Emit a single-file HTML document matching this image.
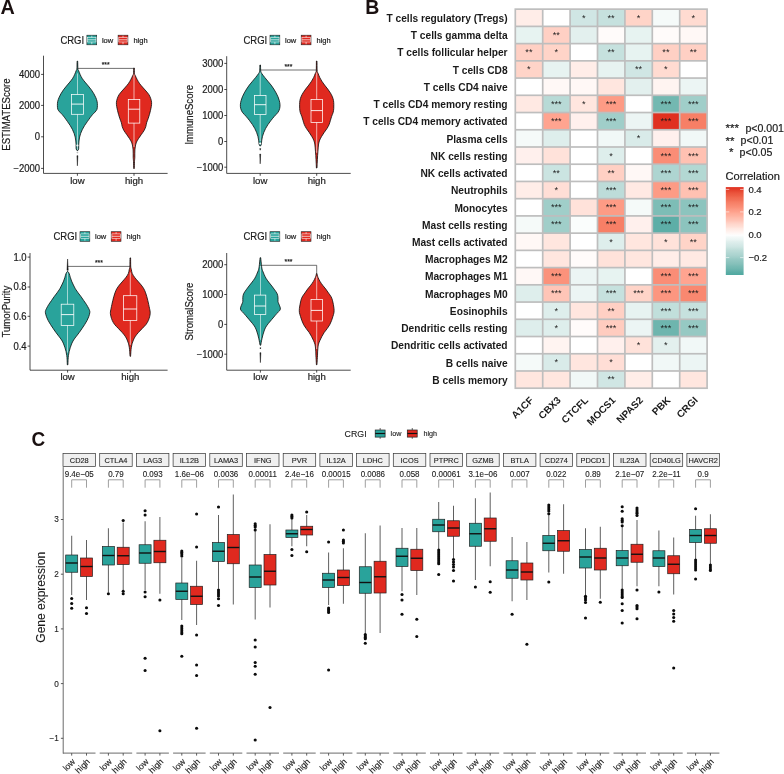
<!DOCTYPE html>
<html><head><meta charset="utf-8"><title>Figure</title>
<style>html,body{margin:0;padding:0;background:#fff;overflow:hidden;}svg{display:block;will-change:transform;}text{font-family:"Liberation Sans",sans-serif;}.k text{stroke:#222;stroke-width:0.2px;}.c text{stroke:#222;stroke-width:0.12px;}</style>
</head><body>
<svg width="784" height="774" viewBox="0 0 784 774">
<rect width="784" height="774" fill="#fff"/>
<g class="k"><path d="M77.7,61.2C77.73,62.5 77.76,67.45 77.9,69C78.04,70.55 78.19,69.6 78.56,70.5C78.93,71.4 79.51,73.1 80.1,74.4C80.69,75.7 81.28,77.02 82.1,78.3C82.92,79.58 83.97,80.82 85,82.1C86.03,83.38 87.23,84.7 88.3,86C89.37,87.3 90.47,88.6 91.4,89.9C92.33,91.2 93.17,92.52 93.9,93.8C94.63,95.08 95.27,96.32 95.8,97.6C96.33,98.88 96.83,100.2 97.1,101.5C97.37,102.8 97.42,104.1 97.4,105.4C97.38,106.7 97.4,108.18 97,109.3C96.6,110.42 95.73,111.23 95,112.1C94.27,112.97 93.43,113.55 92.6,114.5C91.77,115.45 90.88,116.62 90,117.8C89.12,118.98 88.2,120.32 87.3,121.6C86.4,122.88 85.42,124.2 84.6,125.5C83.78,126.8 83.05,128.1 82.4,129.4C81.75,130.7 81.17,132.02 80.7,133.3C80.23,134.58 79.88,135.82 79.6,137.1C79.32,138.38 79.15,139.7 79,141C78.85,142.3 78.76,143.6 78.7,144.9C78.64,146.2 78.81,147.85 78.65,148.8C78.49,149.75 77.9,150.3 77.75,150.6L77.05,150.6C76.9,150.3 76.31,149.75 76.15,148.8C75.99,147.85 76.16,146.2 76.1,144.9C76.04,143.6 75.95,142.3 75.8,141C75.65,139.7 75.48,138.38 75.2,137.1C74.92,135.82 74.57,134.58 74.1,133.3C73.63,132.02 73.05,130.7 72.4,129.4C71.75,128.1 71.02,126.8 70.2,125.5C69.38,124.2 68.4,122.88 67.5,121.6C66.6,120.32 65.68,118.98 64.8,117.8C63.92,116.62 63.03,115.45 62.2,114.5C61.37,113.55 60.53,112.97 59.8,112.1C59.07,111.23 58.2,110.42 57.8,109.3C57.4,108.18 57.42,106.7 57.4,105.4C57.38,104.1 57.43,102.8 57.7,101.5C57.97,100.2 58.47,98.88 59,97.6C59.53,96.32 60.17,95.08 60.9,93.8C61.63,92.52 62.47,91.2 63.4,89.9C64.33,88.6 65.43,87.3 66.5,86C67.57,84.7 68.77,83.38 69.8,82.1C70.83,80.82 71.88,79.58 72.7,78.3C73.52,77.02 74.11,75.7 74.7,74.4C75.29,73.1 75.87,71.4 76.24,70.5C76.61,69.6 76.76,70.55 76.9,69C77.04,67.45 77.07,62.5 77.1,61.2Z" fill="#29A39B" stroke="#0a0a0a" stroke-width="0.8"/><line x1="77.4" y1="73.4" x2="77.4" y2="149.8" stroke="#fff" stroke-width="0.7" opacity="0.9"/><rect x="71.4" y="94.4" width="12" height="19.9" fill="#29A39B" stroke="#fff" stroke-width="0.75"/><line x1="71.4" y1="104.1" x2="83.4" y2="104.1" stroke="#fff" stroke-width="0.9"/><path d="M134.3,68C134.33,68.93 134.34,72.35 134.5,73.6C134.66,74.85 134.81,74.53 135.24,75.5C135.67,76.47 136.41,78.1 137.1,79.4C137.79,80.7 138.5,82.02 139.4,83.3C140.3,84.58 141.4,85.82 142.5,87.1C143.6,88.38 144.9,89.7 146,91C147.1,92.3 148.3,93.6 149.1,94.9C149.9,96.2 150.38,97.52 150.8,98.8C151.22,100.08 151.52,101.32 151.6,102.6C151.68,103.88 151.48,105.2 151.3,106.5C151.12,107.8 150.8,109.1 150.5,110.4C150.2,111.7 149.88,112.95 149.5,114.3C149.12,115.65 148.68,117.08 148.2,118.5C147.72,119.92 147,121.45 146.6,122.8C146.2,124.15 146.22,125.32 145.8,126.6C145.38,127.88 144.83,129.2 144.1,130.5C143.37,131.8 142.3,133.1 141.4,134.4C140.5,135.7 139.52,137.02 138.7,138.3C137.88,139.58 137.05,140.82 136.5,142.1C135.95,143.38 135.67,144.7 135.4,146C135.13,147.3 135,148.6 134.9,149.9C134.8,151.2 134.82,152.52 134.8,153.8C134.78,155.08 134.85,156.32 134.8,157.6C134.75,158.88 134.58,159.68 134.5,161.5C134.42,163.32 134.33,167.33 134.3,168.5L133.7,168.5C133.67,167.33 133.58,163.32 133.5,161.5C133.42,159.68 133.25,158.88 133.2,157.6C133.15,156.32 133.22,155.08 133.2,153.8C133.18,152.52 133.2,151.2 133.1,149.9C133,148.6 132.87,147.3 132.6,146C132.33,144.7 132.05,143.38 131.5,142.1C130.95,140.82 130.12,139.58 129.3,138.3C128.48,137.02 127.5,135.7 126.6,134.4C125.7,133.1 124.63,131.8 123.9,130.5C123.17,129.2 122.62,127.88 122.2,126.6C121.78,125.32 121.8,124.15 121.4,122.8C121,121.45 120.28,119.92 119.8,118.5C119.32,117.08 118.88,115.65 118.5,114.3C118.12,112.95 117.8,111.7 117.5,110.4C117.2,109.1 116.88,107.8 116.7,106.5C116.52,105.2 116.32,103.88 116.4,102.6C116.48,101.32 116.78,100.08 117.2,98.8C117.62,97.52 118.1,96.2 118.9,94.9C119.7,93.6 120.9,92.3 122,91C123.1,89.7 124.4,88.38 125.5,87.1C126.6,85.82 127.7,84.58 128.6,83.3C129.5,82.02 130.21,80.7 130.9,79.4C131.59,78.1 132.33,76.47 132.76,75.5C133.19,74.53 133.34,74.85 133.5,73.6C133.66,72.35 133.67,68.93 133.7,68Z" fill="#E0291F" stroke="#0a0a0a" stroke-width="0.8"/><line x1="134" y1="74.5" x2="134" y2="147" stroke="#fff" stroke-width="0.7" opacity="0.9"/><rect x="128.3" y="99.5" width="11.5" height="23.6" fill="#E0291F" stroke="#fff" stroke-width="0.75"/><line x1="128.3" y1="109.2" x2="139.8" y2="109.2" stroke="#fff" stroke-width="0.9"/><path d="M77.4,68.4H134V69" fill="none" stroke="#333" stroke-width="0.7"/><text x="105.7" y="67.2" font-size="6.8" text-anchor="middle" font-weight="normal" fill="#111">***</text><ellipse cx="77.4" cy="145.5" rx="1.1" ry="0.9" fill="#fff"/><ellipse cx="77.4" cy="152.6" rx="0.9" ry="0.8" fill="#bbb"/><path d="M76.95,155.7L77.85,155.7L77.4,165.8Z" fill="#111" stroke="#111" stroke-width="0.5"/><path d="M43.5,55.7V173.4H167.6" fill="none" stroke="#111" stroke-width="0.75"/><line x1="41.1" y1="74.4" x2="43.5" y2="74.4" stroke="#111" stroke-width="0.75"/><text x="0" y="0" font-size="10.17" text-anchor="end" font-weight="normal" fill="#1a1a1a" transform="translate(40.1 77.8) scale(0.9346 1)">4000</text><line x1="41.1" y1="105.4" x2="43.5" y2="105.4" stroke="#111" stroke-width="0.75"/><text x="0" y="0" font-size="10.17" text-anchor="end" font-weight="normal" fill="#1a1a1a" transform="translate(40.1 108.8) scale(0.9346 1)">2000</text><line x1="41.1" y1="136.8" x2="43.5" y2="136.8" stroke="#111" stroke-width="0.75"/><text x="0" y="0" font-size="10.17" text-anchor="end" font-weight="normal" fill="#1a1a1a" transform="translate(40.1 140.2) scale(0.9346 1)">0</text><line x1="41.1" y1="168.4" x2="43.5" y2="168.4" stroke="#111" stroke-width="0.75"/><text x="0" y="0" font-size="10.17" text-anchor="end" font-weight="normal" fill="#1a1a1a" transform="translate(40.1 171.8) scale(0.9346 1)">−2000</text><line x1="77.4" y1="173.4" x2="77.4" y2="175.8" stroke="#111" stroke-width="0.75"/><text x="77.4" y="183.5" font-size="9.6" text-anchor="middle" font-weight="normal" fill="#1a1a1a">low</text><line x1="134" y1="173.4" x2="134" y2="175.8" stroke="#111" stroke-width="0.75"/><text x="134" y="183.5" font-size="9.6" text-anchor="middle" font-weight="normal" fill="#1a1a1a">high</text><text x="0" y="0" font-size="10.9" text-anchor="middle" font-weight="normal" fill="#1a1a1a" transform="translate(9.9 114.55) rotate(-90) scale(0.88 1)">ESTIMATEScore</text><text x="0" y="0" font-size="10.6" text-anchor="start" font-weight="normal" fill="#1a1a1a" transform="translate(60.4 43.6) scale(0.896 1)">CRGI</text><rect x="86.9" y="35.2" width="9.8" height="9.6" fill="#29A39B" stroke="#222" stroke-width="0.6"/><rect x="87.6" y="37.4" width="8.4" height="4.6" fill="none" stroke="#fff" stroke-width="0.6" opacity="0.9"/><line x1="87.6" y1="39.8" x2="96" y2="39.8" stroke="#fff" stroke-width="0.7"/><line x1="91.8" y1="35.7" x2="91.8" y2="37.4" stroke="#fff" stroke-width="0.6"/><line x1="91.8" y1="42" x2="91.8" y2="44.2" stroke="#fff" stroke-width="0.6"/><text x="101.9" y="42.8" font-size="7.5" text-anchor="start" font-weight="normal" fill="#1a1a1a">low</text><rect x="118.1" y="35.2" width="9.8" height="9.6" fill="#E0291F" stroke="#222" stroke-width="0.6"/><rect x="118.8" y="37.4" width="8.4" height="4.6" fill="none" stroke="#fff" stroke-width="0.6" opacity="0.9"/><line x1="118.8" y1="39.8" x2="127.2" y2="39.8" stroke="#fff" stroke-width="0.7"/><line x1="123" y1="35.7" x2="123" y2="37.4" stroke="#fff" stroke-width="0.6"/><line x1="123" y1="42" x2="123" y2="44.2" stroke="#fff" stroke-width="0.6"/><text x="133.4" y="42.8" font-size="7.5" text-anchor="start" font-weight="normal" fill="#1a1a1a">high</text></g>
<g class="k"><path d="M260.5,65C260.52,65.83 260.57,68.83 260.65,70C260.73,71.17 260.82,71.42 261,72C261.18,72.58 261.13,72.6 261.75,73.5C262.37,74.4 263.67,76.1 264.7,77.4C265.73,78.7 266.88,80.02 267.95,81.3C269.02,82.58 270.12,83.82 271.1,85.1C272.07,86.38 272.97,87.7 273.8,89C274.63,90.3 275.4,91.6 276.1,92.9C276.8,94.2 277.47,95.52 278,96.8C278.53,98.08 278.97,99.32 279.3,100.6C279.63,101.88 279.93,103.2 280,104.5C280.07,105.8 280.03,107.1 279.7,108.4C279.37,109.7 278.92,110.95 278,112.3C277.08,113.65 275.42,115.08 274.2,116.5C272.98,117.92 271.74,119.45 270.7,120.8C269.66,122.15 268.8,123.32 267.95,124.6C267.1,125.88 266.29,127.2 265.6,128.5C264.91,129.8 264.32,131.1 263.8,132.4C263.28,133.7 262.84,135.02 262.5,136.3C262.16,137.58 261.94,138.82 261.75,140.1C261.56,141.38 261.55,143.03 261.36,144C261.17,144.97 260.73,145.58 260.6,145.9L259.8,145.9C259.67,145.58 259.23,144.97 259.04,144C258.85,143.03 258.84,141.38 258.65,140.1C258.46,138.82 258.24,137.58 257.9,136.3C257.56,135.02 257.12,133.7 256.6,132.4C256.08,131.1 255.49,129.8 254.8,128.5C254.11,127.2 253.3,125.88 252.45,124.6C251.6,123.32 250.74,122.15 249.7,120.8C248.66,119.45 247.42,117.92 246.2,116.5C244.98,115.08 243.32,113.65 242.4,112.3C241.48,110.95 241.03,109.7 240.7,108.4C240.37,107.1 240.33,105.8 240.4,104.5C240.47,103.2 240.77,101.88 241.1,100.6C241.43,99.32 241.87,98.08 242.4,96.8C242.93,95.52 243.6,94.2 244.3,92.9C245,91.6 245.77,90.3 246.6,89C247.43,87.7 248.32,86.38 249.3,85.1C250.27,83.82 251.38,82.58 252.45,81.3C253.52,80.02 254.67,78.7 255.7,77.4C256.73,76.1 258.03,74.4 258.65,73.5C259.27,72.6 259.22,72.58 259.4,72C259.58,71.42 259.67,71.17 259.75,70C259.83,68.83 259.88,65.83 259.9,65Z" fill="#29A39B" stroke="#0a0a0a" stroke-width="0.8"/><line x1="260.2" y1="72.5" x2="260.2" y2="141.1" stroke="#fff" stroke-width="0.7" opacity="0.9"/><rect x="254.4" y="95.4" width="11.6" height="19.2" fill="#29A39B" stroke="#fff" stroke-width="0.75"/><line x1="254.4" y1="104.7" x2="266" y2="104.7" stroke="#fff" stroke-width="0.9"/><path d="M317,61.1C317.02,62.58 317.04,68.18 317.1,70C317.16,71.82 317.19,71.42 317.36,72C317.53,72.58 317.74,72.6 318.13,73.5C318.52,74.4 319.07,76.1 319.7,77.4C320.33,78.7 321.08,80.02 321.9,81.3C322.72,82.58 323.63,83.82 324.6,85.1C325.57,86.38 326.73,87.7 327.7,89C328.67,90.3 329.62,91.6 330.4,92.9C331.18,94.2 331.88,95.52 332.4,96.8C332.92,98.08 333.27,99.32 333.5,100.6C333.73,101.88 333.76,103.2 333.8,104.5C333.84,105.8 333.85,107.1 333.75,108.4C333.65,109.7 333.56,110.95 333.2,112.3C332.84,113.65 332.08,115.08 331.6,116.5C331.12,117.92 330.72,119.45 330.3,120.8C329.88,122.15 329.65,123.32 329.1,124.6C328.55,125.88 327.82,127.2 327,128.5C326.18,129.8 325.08,131.1 324.2,132.4C323.32,133.7 322.45,135.02 321.7,136.3C320.95,137.58 320.22,138.82 319.7,140.1C319.18,141.38 318.85,142.7 318.6,144C318.35,145.3 318.32,146.6 318.2,147.9C318.08,149.2 318,150.52 317.9,151.8C317.8,153.08 317.68,154.32 317.6,155.6C317.52,156.88 317.47,158.2 317.4,159.5C317.33,160.8 317.27,161.98 317.2,163.4C317.13,164.82 317.03,167.23 317,168L316.4,168C316.37,167.23 316.27,164.82 316.2,163.4C316.13,161.98 316.07,160.8 316,159.5C315.93,158.2 315.88,156.88 315.8,155.6C315.72,154.32 315.6,153.08 315.5,151.8C315.4,150.52 315.32,149.2 315.2,147.9C315.08,146.6 315.05,145.3 314.8,144C314.55,142.7 314.22,141.38 313.7,140.1C313.18,138.82 312.45,137.58 311.7,136.3C310.95,135.02 310.08,133.7 309.2,132.4C308.32,131.1 307.22,129.8 306.4,128.5C305.58,127.2 304.85,125.88 304.3,124.6C303.75,123.32 303.52,122.15 303.1,120.8C302.68,119.45 302.28,117.92 301.8,116.5C301.32,115.08 300.56,113.65 300.2,112.3C299.84,110.95 299.75,109.7 299.65,108.4C299.55,107.1 299.56,105.8 299.6,104.5C299.64,103.2 299.67,101.88 299.9,100.6C300.13,99.32 300.48,98.08 301,96.8C301.52,95.52 302.22,94.2 303,92.9C303.78,91.6 304.73,90.3 305.7,89C306.67,87.7 307.83,86.38 308.8,85.1C309.77,83.82 310.68,82.58 311.5,81.3C312.32,80.02 313.07,78.7 313.7,77.4C314.33,76.1 314.88,74.4 315.27,73.5C315.66,72.6 315.87,72.58 316.04,72C316.21,71.42 316.24,71.82 316.3,70C316.36,68.18 316.38,62.58 316.4,61.1Z" fill="#E0291F" stroke="#0a0a0a" stroke-width="0.8"/><line x1="316.7" y1="72.5" x2="316.7" y2="152.8" stroke="#fff" stroke-width="0.7" opacity="0.9"/><rect x="311" y="99.5" width="11.6" height="23" fill="#E0291F" stroke="#fff" stroke-width="0.75"/><line x1="311" y1="110.6" x2="322.6" y2="110.6" stroke="#fff" stroke-width="0.9"/><path d="M260.2,70H316.7V70.5" fill="none" stroke="#333" stroke-width="0.7"/><text x="288.45" y="68.8" font-size="6.8" text-anchor="middle" font-weight="normal" fill="#111">***</text><ellipse cx="260.2" cy="143.6" rx="1.1" ry="1" fill="#fff"/><path d="M259.75,148.6L260.65,148.6L260.2,150.2Z" fill="#111" stroke="#111" stroke-width="0.5"/><path d="M259.75,154.1L260.65,154.1L260.2,163.8Z" fill="#111" stroke="#111" stroke-width="0.5"/><path d="M226.7,56.2V173.4H350.7" fill="none" stroke="#111" stroke-width="0.75"/><line x1="224.3" y1="63.4" x2="226.7" y2="63.4" stroke="#111" stroke-width="0.75"/><text x="0" y="0" font-size="10.17" text-anchor="end" font-weight="normal" fill="#1a1a1a" transform="translate(223.3 66.8) scale(0.9346 1)">3000</text><line x1="224.3" y1="89.5" x2="226.7" y2="89.5" stroke="#111" stroke-width="0.75"/><text x="0" y="0" font-size="10.17" text-anchor="end" font-weight="normal" fill="#1a1a1a" transform="translate(223.3 92.9) scale(0.9346 1)">2000</text><line x1="224.3" y1="115.5" x2="226.7" y2="115.5" stroke="#111" stroke-width="0.75"/><text x="0" y="0" font-size="10.17" text-anchor="end" font-weight="normal" fill="#1a1a1a" transform="translate(223.3 118.9) scale(0.9346 1)">1000</text><line x1="224.3" y1="141.5" x2="226.7" y2="141.5" stroke="#111" stroke-width="0.75"/><text x="0" y="0" font-size="10.17" text-anchor="end" font-weight="normal" fill="#1a1a1a" transform="translate(223.3 144.9) scale(0.9346 1)">0</text><line x1="224.3" y1="167.2" x2="226.7" y2="167.2" stroke="#111" stroke-width="0.75"/><text x="0" y="0" font-size="10.17" text-anchor="end" font-weight="normal" fill="#1a1a1a" transform="translate(223.3 170.6) scale(0.9346 1)">−1000</text><line x1="260.2" y1="173.4" x2="260.2" y2="175.8" stroke="#111" stroke-width="0.75"/><text x="260.2" y="183.5" font-size="9.6" text-anchor="middle" font-weight="normal" fill="#1a1a1a">low</text><line x1="316.7" y1="173.4" x2="316.7" y2="175.8" stroke="#111" stroke-width="0.75"/><text x="316.7" y="183.5" font-size="9.6" text-anchor="middle" font-weight="normal" fill="#1a1a1a">high</text><text x="0" y="0" font-size="10.9" text-anchor="middle" font-weight="normal" fill="#1a1a1a" transform="translate(193.2 114.8) rotate(-90) scale(0.88 1)">ImmuneScore</text><text x="0" y="0" font-size="10.6" text-anchor="start" font-weight="normal" fill="#1a1a1a" transform="translate(243.5 43.6) scale(0.896 1)">CRGI</text><rect x="270" y="35.2" width="9.8" height="9.6" fill="#29A39B" stroke="#222" stroke-width="0.6"/><rect x="270.7" y="37.4" width="8.4" height="4.6" fill="none" stroke="#fff" stroke-width="0.6" opacity="0.9"/><line x1="270.7" y1="39.8" x2="279.1" y2="39.8" stroke="#fff" stroke-width="0.7"/><line x1="274.9" y1="35.7" x2="274.9" y2="37.4" stroke="#fff" stroke-width="0.6"/><line x1="274.9" y1="42" x2="274.9" y2="44.2" stroke="#fff" stroke-width="0.6"/><text x="285" y="42.8" font-size="7.5" text-anchor="start" font-weight="normal" fill="#1a1a1a">low</text><rect x="301.2" y="35.2" width="9.8" height="9.6" fill="#E0291F" stroke="#222" stroke-width="0.6"/><rect x="301.9" y="37.4" width="8.4" height="4.6" fill="none" stroke="#fff" stroke-width="0.6" opacity="0.9"/><line x1="301.9" y1="39.8" x2="310.3" y2="39.8" stroke="#fff" stroke-width="0.7"/><line x1="306.1" y1="35.7" x2="306.1" y2="37.4" stroke="#fff" stroke-width="0.6"/><line x1="306.1" y1="42" x2="306.1" y2="44.2" stroke="#fff" stroke-width="0.6"/><text x="316.5" y="42.8" font-size="7.5" text-anchor="start" font-weight="normal" fill="#1a1a1a">high</text></g>
<g class="k"><path d="M67.95,271.6C68.15,271.9 68.76,272.45 69.15,273.4C69.54,274.35 69.89,276.02 70.3,277.3C70.71,278.58 71.08,279.82 71.6,281.1C72.12,282.38 72.77,283.7 73.4,285C74.03,286.3 74.62,287.6 75.4,288.9C76.18,290.2 77.17,291.52 78.1,292.8C79.03,294.08 80.07,295.32 81,296.6C81.93,297.88 82.8,299.2 83.7,300.5C84.6,301.8 85.58,303.1 86.4,304.4C87.22,305.7 88.07,307.27 88.6,308.3C89.13,309.33 89.4,309.87 89.6,310.6C89.8,311.33 89.95,311.67 89.8,312.7C89.65,313.73 89.17,315.48 88.7,316.8C88.23,318.12 87.67,319.32 87,320.6C86.33,321.88 85.52,323.2 84.7,324.5C83.88,325.8 82.98,327.1 82.1,328.4C81.22,329.7 80.33,331.02 79.4,332.3C78.47,333.58 77.47,334.82 76.5,336.1C75.53,337.38 74.42,338.7 73.6,340C72.78,341.3 72.17,342.6 71.6,343.9C71.03,345.2 70.61,346.52 70.2,347.8C69.79,349.08 69.44,350.32 69.15,351.6C68.86,352.88 68.62,354.2 68.45,355.5C68.27,356.8 68.19,357.85 68.1,359.4C68.01,360.95 67.93,363.9 67.9,364.8L67.3,364.8C67.27,363.9 67.19,360.95 67.1,359.4C67.01,357.85 66.92,356.8 66.75,355.5C66.58,354.2 66.34,352.88 66.05,351.6C65.76,350.32 65.41,349.08 65,347.8C64.59,346.52 64.17,345.2 63.6,343.9C63.03,342.6 62.42,341.3 61.6,340C60.78,338.7 59.67,337.38 58.7,336.1C57.73,334.82 56.73,333.58 55.8,332.3C54.87,331.02 53.98,329.7 53.1,328.4C52.22,327.1 51.32,325.8 50.5,324.5C49.68,323.2 48.87,321.88 48.2,320.6C47.53,319.32 46.97,318.12 46.5,316.8C46.03,315.48 45.55,313.73 45.4,312.7C45.25,311.67 45.4,311.33 45.6,310.6C45.8,309.87 46.07,309.33 46.6,308.3C47.13,307.27 47.98,305.7 48.8,304.4C49.62,303.1 50.6,301.8 51.5,300.5C52.4,299.2 53.27,297.88 54.2,296.6C55.13,295.32 56.17,294.08 57.1,292.8C58.03,291.52 59.02,290.2 59.8,288.9C60.58,287.6 61.17,286.3 61.8,285C62.43,283.7 63.08,282.38 63.6,281.1C64.12,279.82 64.49,278.58 64.9,277.3C65.31,276.02 65.66,274.35 66.05,273.4C66.44,272.45 67.05,271.9 67.25,271.6Z" fill="#29A39B" stroke="#0a0a0a" stroke-width="0.8"/><line x1="67.6" y1="272.4" x2="67.6" y2="352.6" stroke="#fff" stroke-width="0.7" opacity="0.9"/><rect x="61.2" y="304.2" width="12.6" height="21.2" fill="#29A39B" stroke="#fff" stroke-width="0.75"/><line x1="61.2" y1="314.6" x2="73.8" y2="314.6" stroke="#fff" stroke-width="0.9"/><path d="M130.6,257.9C130.62,259.25 130.64,264.32 130.7,266C130.76,267.68 130.85,267.42 130.96,268C131.07,268.58 131.14,268.6 131.35,269.5C131.56,270.4 131.66,272.1 132.2,273.4C132.74,274.7 133.67,276.02 134.6,277.3C135.53,278.58 136.7,279.82 137.8,281.1C138.9,282.38 140.18,283.7 141.2,285C142.22,286.3 143.17,287.6 143.9,288.9C144.63,290.2 145.12,291.52 145.6,292.8C146.08,294.08 146.43,295.32 146.8,296.6C147.17,297.88 147.48,299.2 147.8,300.5C148.12,301.8 148.42,303.1 148.7,304.4C148.98,305.7 149.28,307.2 149.5,308.3C149.72,309.4 149.93,310.13 150.05,311C150.17,311.87 150.28,312.53 150.2,313.5C150.13,314.47 149.92,315.62 149.6,316.8C149.28,317.98 148.9,319.32 148.3,320.6C147.7,321.88 147,323.2 146,324.5C145,325.8 143.53,327.1 142.3,328.4C141.07,329.7 139.73,331.02 138.6,332.3C137.47,333.58 136.37,334.82 135.5,336.1C134.63,337.38 133.98,338.7 133.4,340C132.82,341.3 132.36,342.6 132,343.9C131.64,345.2 131.43,346.52 131.25,347.8C131.07,349.08 131.01,350.18 130.9,351.6C130.79,353.02 130.65,355.52 130.6,356.3L130,356.3C129.95,355.52 129.81,353.02 129.7,351.6C129.59,350.18 129.53,349.08 129.35,347.8C129.17,346.52 128.96,345.2 128.6,343.9C128.24,342.6 127.78,341.3 127.2,340C126.62,338.7 125.97,337.38 125.1,336.1C124.23,334.82 123.13,333.58 122,332.3C120.87,331.02 119.53,329.7 118.3,328.4C117.07,327.1 115.6,325.8 114.6,324.5C113.6,323.2 112.9,321.88 112.3,320.6C111.7,319.32 111.32,317.98 111,316.8C110.68,315.62 110.48,314.47 110.4,313.5C110.33,312.53 110.43,311.87 110.55,311C110.67,310.13 110.88,309.4 111.1,308.3C111.33,307.2 111.62,305.7 111.9,304.4C112.18,303.1 112.48,301.8 112.8,300.5C113.12,299.2 113.43,297.88 113.8,296.6C114.17,295.32 114.52,294.08 115,292.8C115.48,291.52 115.97,290.2 116.7,288.9C117.43,287.6 118.38,286.3 119.4,285C120.42,283.7 121.7,282.38 122.8,281.1C123.9,279.82 125.07,278.58 126,277.3C126.93,276.02 127.86,274.7 128.4,273.4C128.94,272.1 129.04,270.4 129.25,269.5C129.46,268.6 129.53,268.58 129.64,268C129.75,267.42 129.84,267.68 129.9,266C129.96,264.32 129.98,259.25 130,257.9Z" fill="#E0291F" stroke="#0a0a0a" stroke-width="0.8"/><line x1="130.3" y1="272.4" x2="130.3" y2="344.9" stroke="#fff" stroke-width="0.7" opacity="0.9"/><rect x="123.4" y="295.7" width="13.4" height="24.8" fill="#E0291F" stroke="#fff" stroke-width="0.75"/><line x1="123.4" y1="309" x2="136.8" y2="309" stroke="#fff" stroke-width="0.9"/><path d="M67.6,266.4H130.3V266.9" fill="none" stroke="#333" stroke-width="0.7"/><text x="98.95" y="265.2" font-size="6.8" text-anchor="middle" font-weight="normal" fill="#111">***</text><path d="M67.6,259L68.2,270.3L67,270.3Z" fill="#111" stroke="#111" stroke-width="0.5"/><path d="M30,253V370.2H167.6" fill="none" stroke="#111" stroke-width="0.75"/><line x1="27.6" y1="257.1" x2="30" y2="257.1" stroke="#111" stroke-width="0.75"/><text x="0" y="0" font-size="10.17" text-anchor="end" font-weight="normal" fill="#1a1a1a" transform="translate(26.6 260.5) scale(0.9346 1)">1.0</text><line x1="27.6" y1="287" x2="30" y2="287" stroke="#111" stroke-width="0.75"/><text x="0" y="0" font-size="10.17" text-anchor="end" font-weight="normal" fill="#1a1a1a" transform="translate(26.6 290.4) scale(0.9346 1)">0.8</text><line x1="27.6" y1="316.3" x2="30" y2="316.3" stroke="#111" stroke-width="0.75"/><text x="0" y="0" font-size="10.17" text-anchor="end" font-weight="normal" fill="#1a1a1a" transform="translate(26.6 319.7) scale(0.9346 1)">0.6</text><line x1="27.6" y1="346.1" x2="30" y2="346.1" stroke="#111" stroke-width="0.75"/><text x="0" y="0" font-size="10.17" text-anchor="end" font-weight="normal" fill="#1a1a1a" transform="translate(26.6 349.5) scale(0.9346 1)">0.4</text><line x1="67.6" y1="370.2" x2="67.6" y2="372.6" stroke="#111" stroke-width="0.75"/><text x="67.6" y="380.3" font-size="9.6" text-anchor="middle" font-weight="normal" fill="#1a1a1a">low</text><line x1="130.3" y1="370.2" x2="130.3" y2="372.6" stroke="#111" stroke-width="0.75"/><text x="130.3" y="380.3" font-size="9.6" text-anchor="middle" font-weight="normal" fill="#1a1a1a">high</text><text x="0" y="0" font-size="10.9" text-anchor="middle" font-weight="normal" fill="#1a1a1a" transform="translate(9.6 311.6) rotate(-90) scale(0.88 1)">TumorPurity</text><text x="0" y="0" font-size="10.6" text-anchor="start" font-weight="normal" fill="#1a1a1a" transform="translate(53.5 240.1) scale(0.896 1)">CRGI</text><rect x="80" y="231.7" width="9.8" height="9.6" fill="#29A39B" stroke="#222" stroke-width="0.6"/><rect x="80.7" y="233.9" width="8.4" height="4.6" fill="none" stroke="#fff" stroke-width="0.6" opacity="0.9"/><line x1="80.7" y1="236.3" x2="89.1" y2="236.3" stroke="#fff" stroke-width="0.7"/><line x1="84.9" y1="232.2" x2="84.9" y2="233.9" stroke="#fff" stroke-width="0.6"/><line x1="84.9" y1="238.5" x2="84.9" y2="240.7" stroke="#fff" stroke-width="0.6"/><text x="95" y="239.3" font-size="7.5" text-anchor="start" font-weight="normal" fill="#1a1a1a">low</text><rect x="111.2" y="231.7" width="9.8" height="9.6" fill="#E0291F" stroke="#222" stroke-width="0.6"/><rect x="111.9" y="233.9" width="8.4" height="4.6" fill="none" stroke="#fff" stroke-width="0.6" opacity="0.9"/><line x1="111.9" y1="236.3" x2="120.3" y2="236.3" stroke="#fff" stroke-width="0.7"/><line x1="116.1" y1="232.2" x2="116.1" y2="233.9" stroke="#fff" stroke-width="0.6"/><line x1="116.1" y1="238.5" x2="116.1" y2="240.7" stroke="#fff" stroke-width="0.6"/><text x="126.5" y="239.3" font-size="7.5" text-anchor="start" font-weight="normal" fill="#1a1a1a">high</text></g>
<g class="k"><path d="M260.7,257.7C260.86,259.18 261.34,264.47 261.64,266.6C261.94,268.73 262.09,269.2 262.5,270.5C262.91,271.8 263.52,273.1 264.1,274.4C264.68,275.7 265.23,277.02 266,278.3C266.77,279.58 267.73,280.82 268.7,282.1C269.67,283.38 270.8,284.7 271.8,286C272.8,287.3 273.8,288.6 274.7,289.9C275.6,291.2 276.65,292.52 277.2,293.8C277.75,295.08 277.87,296.32 278,297.6C278.13,298.88 277.87,300.45 278,301.5C278.13,302.55 278.42,302.85 278.8,303.9C279.18,304.95 280.1,306.77 280.3,307.8C280.5,308.83 280.28,309.47 280,310.1C279.72,310.73 279.42,310.7 278.6,311.6C277.78,312.5 276.23,314.2 275.1,315.5C273.97,316.8 272.9,318.1 271.8,319.4C270.7,320.7 269.5,322.02 268.5,323.3C267.5,324.58 266.53,325.82 265.8,327.1C265.07,328.38 264.58,329.7 264.1,331C263.62,332.3 263.26,333.6 262.9,334.9C262.54,336.2 262.23,337.52 261.95,338.8C261.67,340.08 261.4,341.53 261.2,342.6C261,343.67 260.82,344.77 260.75,345.2L260.05,345.2C259.97,344.77 259.8,343.67 259.6,342.6C259.4,341.53 259.13,340.08 258.85,338.8C258.57,337.52 258.26,336.2 257.9,334.9C257.54,333.6 257.18,332.3 256.7,331C256.22,329.7 255.73,328.38 255,327.1C254.27,325.82 253.3,324.58 252.3,323.3C251.3,322.02 250.1,320.7 249,319.4C247.9,318.1 246.83,316.8 245.7,315.5C244.57,314.2 243.02,312.5 242.2,311.6C241.38,310.7 241.08,310.73 240.8,310.1C240.52,309.47 240.3,308.83 240.5,307.8C240.7,306.77 241.62,304.95 242,303.9C242.38,302.85 242.67,302.55 242.8,301.5C242.93,300.45 242.67,298.88 242.8,297.6C242.93,296.32 243.05,295.08 243.6,293.8C244.15,292.52 245.2,291.2 246.1,289.9C247,288.6 248,287.3 249,286C250,284.7 251.13,283.38 252.1,282.1C253.07,280.82 254.03,279.58 254.8,278.3C255.57,277.02 256.12,275.7 256.7,274.4C257.28,273.1 257.89,271.8 258.3,270.5C258.71,269.2 258.86,268.73 259.16,266.6C259.46,264.47 259.94,259.18 260.1,257.7Z" fill="#29A39B" stroke="#0a0a0a" stroke-width="0.8"/><line x1="260.4" y1="265.6" x2="260.4" y2="339.8" stroke="#fff" stroke-width="0.7" opacity="0.9"/><rect x="254.4" y="295.1" width="11.4" height="19.4" fill="#29A39B" stroke="#fff" stroke-width="0.75"/><line x1="254.4" y1="306" x2="265.8" y2="306" stroke="#fff" stroke-width="0.9"/><path d="M317,273.6C317.05,273.87 317.12,274.55 317.3,275.2C317.48,275.85 317.61,276.47 318.06,277.5C318.51,278.53 319.23,280.1 320,281.4C320.77,282.7 321.73,284.02 322.7,285.3C323.67,286.58 324.83,287.82 325.8,289.1C326.77,290.38 327.6,291.7 328.5,293C329.4,294.3 330.52,295.6 331.2,296.9C331.88,298.2 332.23,299.52 332.6,300.8C332.97,302.08 333.17,303.32 333.4,304.6C333.63,305.88 333.9,307.2 334,308.5C334.1,309.8 334.18,311.07 334,312.4C333.82,313.73 333.3,315.15 332.9,316.5C332.5,317.85 332.13,319.12 331.6,320.5C331.07,321.88 330.43,323.45 329.7,324.8C328.97,326.15 328.12,327.32 327.2,328.6C326.28,329.88 325.08,331.2 324.2,332.5C323.32,333.8 322.6,335.1 321.9,336.4C321.2,337.7 320.57,339.02 320,340.3C319.43,341.58 318.85,342.82 318.5,344.1C318.15,345.38 318.05,346.7 317.9,348C317.75,349.3 317.67,350.6 317.6,351.9C317.53,353.2 317.56,354.52 317.5,355.8C317.44,357.08 317.33,358.12 317.25,359.6C317.17,361.08 317.04,363.85 317,364.7L316.4,364.7C316.36,363.85 316.23,361.08 316.15,359.6C316.07,358.12 315.96,357.08 315.9,355.8C315.84,354.52 315.87,353.2 315.8,351.9C315.73,350.6 315.65,349.3 315.5,348C315.35,346.7 315.25,345.38 314.9,344.1C314.55,342.82 313.97,341.58 313.4,340.3C312.83,339.02 312.2,337.7 311.5,336.4C310.8,335.1 310.08,333.8 309.2,332.5C308.32,331.2 307.12,329.88 306.2,328.6C305.28,327.32 304.43,326.15 303.7,324.8C302.97,323.45 302.33,321.88 301.8,320.5C301.27,319.12 300.9,317.85 300.5,316.5C300.1,315.15 299.58,313.73 299.4,312.4C299.22,311.07 299.3,309.8 299.4,308.5C299.5,307.2 299.77,305.88 300,304.6C300.23,303.32 300.43,302.08 300.8,300.8C301.17,299.52 301.52,298.2 302.2,296.9C302.88,295.6 304,294.3 304.9,293C305.8,291.7 306.63,290.38 307.6,289.1C308.57,287.82 309.73,286.58 310.7,285.3C311.67,284.02 312.63,282.7 313.4,281.4C314.17,280.1 314.89,278.53 315.34,277.5C315.79,276.47 315.92,275.85 316.1,275.2C316.28,274.55 316.35,273.87 316.4,273.6Z" fill="#E0291F" stroke="#0a0a0a" stroke-width="0.8"/><line x1="316.7" y1="276.5" x2="316.7" y2="349" stroke="#fff" stroke-width="0.7" opacity="0.9"/><rect x="311" y="299.4" width="11.6" height="21.6" fill="#E0291F" stroke="#fff" stroke-width="0.75"/><line x1="311" y1="310.4" x2="322.6" y2="310.4" stroke="#fff" stroke-width="0.9"/><path d="M260.4,265.3H316.7V274.6" fill="none" stroke="#333" stroke-width="0.7"/><text x="288.55" y="264.1" font-size="6.8" text-anchor="middle" font-weight="normal" fill="#111">***</text><path d="M259.95,347.8L260.85,347.8L260.4,349Z" fill="#111" stroke="#111" stroke-width="0.5"/><path d="M259.95,352.7L260.85,352.7L260.4,362.6Z" fill="#111" stroke="#111" stroke-width="0.5"/><path d="M226.7,253V370.2H350.7" fill="none" stroke="#111" stroke-width="0.75"/><line x1="224.3" y1="264.7" x2="226.7" y2="264.7" stroke="#111" stroke-width="0.75"/><text x="0" y="0" font-size="10.17" text-anchor="end" font-weight="normal" fill="#1a1a1a" transform="translate(223.3 268.1) scale(0.9346 1)">2000</text><line x1="224.3" y1="294.5" x2="226.7" y2="294.5" stroke="#111" stroke-width="0.75"/><text x="0" y="0" font-size="10.17" text-anchor="end" font-weight="normal" fill="#1a1a1a" transform="translate(223.3 297.9) scale(0.9346 1)">1000</text><line x1="224.3" y1="324.4" x2="226.7" y2="324.4" stroke="#111" stroke-width="0.75"/><text x="0" y="0" font-size="10.17" text-anchor="end" font-weight="normal" fill="#1a1a1a" transform="translate(223.3 327.8) scale(0.9346 1)">0</text><line x1="224.3" y1="354.2" x2="226.7" y2="354.2" stroke="#111" stroke-width="0.75"/><text x="0" y="0" font-size="10.17" text-anchor="end" font-weight="normal" fill="#1a1a1a" transform="translate(223.3 357.6) scale(0.9346 1)">−1000</text><line x1="260.4" y1="370.2" x2="260.4" y2="372.6" stroke="#111" stroke-width="0.75"/><text x="260.4" y="380.3" font-size="9.6" text-anchor="middle" font-weight="normal" fill="#1a1a1a">low</text><line x1="316.7" y1="370.2" x2="316.7" y2="372.6" stroke="#111" stroke-width="0.75"/><text x="316.7" y="380.3" font-size="9.6" text-anchor="middle" font-weight="normal" fill="#1a1a1a">high</text><text x="0" y="0" font-size="10.9" text-anchor="middle" font-weight="normal" fill="#1a1a1a" transform="translate(193.2 311.6) rotate(-90) scale(0.88 1)">StromalScore</text><text x="0" y="0" font-size="10.6" text-anchor="start" font-weight="normal" fill="#1a1a1a" transform="translate(243.5 240.1) scale(0.896 1)">CRGI</text><rect x="270" y="231.7" width="9.8" height="9.6" fill="#29A39B" stroke="#222" stroke-width="0.6"/><rect x="270.7" y="233.9" width="8.4" height="4.6" fill="none" stroke="#fff" stroke-width="0.6" opacity="0.9"/><line x1="270.7" y1="236.3" x2="279.1" y2="236.3" stroke="#fff" stroke-width="0.7"/><line x1="274.9" y1="232.2" x2="274.9" y2="233.9" stroke="#fff" stroke-width="0.6"/><line x1="274.9" y1="238.5" x2="274.9" y2="240.7" stroke="#fff" stroke-width="0.6"/><text x="285" y="239.3" font-size="7.5" text-anchor="start" font-weight="normal" fill="#1a1a1a">low</text><rect x="301.2" y="231.7" width="9.8" height="9.6" fill="#E0291F" stroke="#222" stroke-width="0.6"/><rect x="301.9" y="233.9" width="8.4" height="4.6" fill="none" stroke="#fff" stroke-width="0.6" opacity="0.9"/><line x1="301.9" y1="236.3" x2="310.3" y2="236.3" stroke="#fff" stroke-width="0.7"/><line x1="306.1" y1="232.2" x2="306.1" y2="233.9" stroke="#fff" stroke-width="0.6"/><line x1="306.1" y1="238.5" x2="306.1" y2="240.7" stroke="#fff" stroke-width="0.6"/><text x="316.5" y="239.3" font-size="7.5" text-anchor="start" font-weight="normal" fill="#1a1a1a">high</text></g>
<text x="0.5" y="13.9" font-size="19.8" text-anchor="start" font-weight="bold" fill="#1a1010">A</text>
<text x="365.2" y="14" font-size="19.5" text-anchor="start" font-weight="bold" fill="#1a1010">B</text>
<text x="0" y="0" font-size="20.6" text-anchor="start" font-weight="bold" fill="#1a1010" transform="translate(31.5 445.5) scale(0.92 1)">C</text>
<rect x="514.45" y="8.3" width="193.5" height="380.76" fill="#BEBEBE"/><rect x="516.15" y="10" width="25.7" height="15.53" fill="#FFEDE8"/><rect x="543.55" y="10" width="25.7" height="15.53" fill="#FFFFFF"/><rect x="570.95" y="10" width="25.7" height="15.53" fill="#D0E6E4"/><text x="583.7" y="20.66" font-size="9.2" text-anchor="middle" font-weight="normal" fill="#1a1a1a">*</text><rect x="598.35" y="10" width="25.7" height="15.53" fill="#C6E1DE"/><text x="611.1" y="20.66" font-size="9.2" text-anchor="middle" font-weight="normal" fill="#1a1a1a">**</text><rect x="625.75" y="10" width="25.7" height="15.53" fill="#FFD4C8"/><text x="638.5" y="20.66" font-size="9.2" text-anchor="middle" font-weight="normal" fill="#1a1a1a">*</text><rect x="653.15" y="10" width="25.7" height="15.53" fill="#F5FAF9"/><rect x="680.55" y="10" width="25.7" height="15.53" fill="#FFDBD1"/><text x="693.3" y="20.66" font-size="9.2" text-anchor="middle" font-weight="normal" fill="#1a1a1a">*</text><text x="507.6" y="21.96" font-size="10.2" text-anchor="end" font-weight="bold" fill="#1a1a1a">T cells regulatory (Tregs)</text><rect x="516.15" y="27.23" width="25.7" height="15.53" fill="#E7F3F1"/><rect x="543.55" y="27.23" width="25.7" height="15.53" fill="#FFD0C4"/><text x="556.3" y="37.9" font-size="9.2" text-anchor="middle" font-weight="normal" fill="#1a1a1a">**</text><rect x="570.95" y="27.23" width="25.7" height="15.53" fill="#E3F0EE"/><rect x="598.35" y="27.23" width="25.7" height="15.53" fill="#FFFBFA"/><rect x="625.75" y="27.23" width="25.7" height="15.53" fill="#E7F3F1"/><rect x="653.15" y="27.23" width="25.7" height="15.53" fill="#FFFBFA"/><rect x="680.55" y="27.23" width="25.7" height="15.53" fill="#FFF8F6"/><text x="507.6" y="39.2" font-size="10.2" text-anchor="end" font-weight="bold" fill="#1a1a1a">T cells gamma delta</text><rect x="516.15" y="44.46" width="25.7" height="15.53" fill="#FFD0C4"/><text x="528.9" y="55.12" font-size="9.2" text-anchor="middle" font-weight="normal" fill="#1a1a1a">**</text><rect x="543.55" y="44.46" width="25.7" height="15.53" fill="#FFD4C8"/><text x="556.3" y="55.12" font-size="9.2" text-anchor="middle" font-weight="normal" fill="#1a1a1a">*</text><rect x="570.95" y="44.46" width="25.7" height="15.53" fill="#FFFFFF"/><rect x="598.35" y="44.46" width="25.7" height="15.53" fill="#C6E1DE"/><text x="611.1" y="55.12" font-size="9.2" text-anchor="middle" font-weight="normal" fill="#1a1a1a">**</text><rect x="625.75" y="44.46" width="25.7" height="15.53" fill="#E7F3F1"/><rect x="653.15" y="44.46" width="25.7" height="15.53" fill="#FFD0C4"/><text x="665.9" y="55.12" font-size="9.2" text-anchor="middle" font-weight="normal" fill="#1a1a1a">**</text><rect x="680.55" y="44.46" width="25.7" height="15.53" fill="#FFD0C4"/><text x="693.3" y="55.12" font-size="9.2" text-anchor="middle" font-weight="normal" fill="#1a1a1a">**</text><text x="507.6" y="56.43" font-size="10.2" text-anchor="end" font-weight="bold" fill="#1a1a1a">T cells follicular helper</text><rect x="516.15" y="61.69" width="25.7" height="15.53" fill="#FFD4C8"/><text x="528.9" y="72.36" font-size="9.2" text-anchor="middle" font-weight="normal" fill="#1a1a1a">*</text><rect x="543.55" y="61.69" width="25.7" height="15.53" fill="#E7F3F1"/><rect x="570.95" y="61.69" width="25.7" height="15.53" fill="#FFEDE8"/><rect x="598.35" y="61.69" width="25.7" height="15.53" fill="#E7F3F1"/><rect x="625.75" y="61.69" width="25.7" height="15.53" fill="#D0E6E4"/><text x="638.5" y="72.36" font-size="9.2" text-anchor="middle" font-weight="normal" fill="#1a1a1a">**</text><rect x="653.15" y="61.69" width="25.7" height="15.53" fill="#FFDBD1"/><text x="665.9" y="72.36" font-size="9.2" text-anchor="middle" font-weight="normal" fill="#1a1a1a">*</text><rect x="680.55" y="61.69" width="25.7" height="15.53" fill="#FFFFFF"/><text x="507.6" y="73.66" font-size="10.2" text-anchor="end" font-weight="bold" fill="#1a1a1a">T cells CD8</text><rect x="516.15" y="78.92" width="25.7" height="15.53" fill="#FFFFFF"/><rect x="543.55" y="78.92" width="25.7" height="15.53" fill="#FFF8F6"/><rect x="570.95" y="78.92" width="25.7" height="15.53" fill="#FFF8F6"/><rect x="598.35" y="78.92" width="25.7" height="15.53" fill="#FFE6DF"/><rect x="625.75" y="78.92" width="25.7" height="15.53" fill="#E3F0EE"/><rect x="653.15" y="78.92" width="25.7" height="15.53" fill="#FFF4F1"/><rect x="680.55" y="78.92" width="25.7" height="15.53" fill="#ECF5F4"/><text x="507.6" y="90.89" font-size="10.2" text-anchor="end" font-weight="bold" fill="#1a1a1a">T cells CD4 naive</text><rect x="516.15" y="96.15" width="25.7" height="15.53" fill="#FFE9E3"/><rect x="543.55" y="96.15" width="25.7" height="15.53" fill="#B8DAD6"/><text x="556.3" y="106.82" font-size="9.2" text-anchor="middle" font-weight="normal" fill="#1a1a1a">***</text><rect x="570.95" y="96.15" width="25.7" height="15.53" fill="#FFE6DF"/><text x="583.7" y="106.82" font-size="9.2" text-anchor="middle" font-weight="normal" fill="#1a1a1a">*</text><rect x="598.35" y="96.15" width="25.7" height="15.53" fill="#FD9B85"/><text x="611.1" y="106.82" font-size="9.2" text-anchor="middle" font-weight="normal" fill="#1a1a1a">***</text><rect x="625.75" y="96.15" width="25.7" height="15.53" fill="#FFFFFF"/><rect x="653.15" y="96.15" width="25.7" height="15.53" fill="#73B8B1"/><text x="665.9" y="106.82" font-size="9.2" text-anchor="middle" font-weight="normal" fill="#1a1a1a">***</text><rect x="680.55" y="96.15" width="25.7" height="15.53" fill="#A0CEC9"/><text x="693.3" y="106.82" font-size="9.2" text-anchor="middle" font-weight="normal" fill="#1a1a1a">***</text><text x="507.6" y="108.12" font-size="10.2" text-anchor="end" font-weight="bold" fill="#1a1a1a">T cells CD4 memory resting</text><rect x="516.15" y="113.38" width="25.7" height="15.53" fill="#FFFFFF"/><rect x="543.55" y="113.38" width="25.7" height="15.53" fill="#FFA490"/><text x="556.3" y="124.05" font-size="9.2" text-anchor="middle" font-weight="normal" fill="#1a1a1a">***</text><rect x="570.95" y="113.38" width="25.7" height="15.53" fill="#FFF0ED"/><rect x="598.35" y="113.38" width="25.7" height="15.53" fill="#A0CEC9"/><text x="611.1" y="124.05" font-size="9.2" text-anchor="middle" font-weight="normal" fill="#1a1a1a">***</text><rect x="625.75" y="113.38" width="25.7" height="15.53" fill="#ECF5F4"/><rect x="653.15" y="113.38" width="25.7" height="15.53" fill="#E03020"/><text x="665.9" y="124.05" font-size="9.2" text-anchor="middle" font-weight="normal" fill="#1a1a1a">***</text><rect x="680.55" y="113.38" width="25.7" height="15.53" fill="#F77F66"/><text x="693.3" y="124.05" font-size="9.2" text-anchor="middle" font-weight="normal" fill="#1a1a1a">***</text><text x="507.6" y="125.34" font-size="10.2" text-anchor="end" font-weight="bold" fill="#1a1a1a">T cells CD4 memory activated</text><rect x="516.15" y="130.61" width="25.7" height="15.53" fill="#F5FAF9"/><rect x="543.55" y="130.61" width="25.7" height="15.53" fill="#DEEEEC"/><rect x="570.95" y="130.61" width="25.7" height="15.53" fill="#FFFFFF"/><rect x="598.35" y="130.61" width="25.7" height="15.53" fill="#F1F8F7"/><rect x="625.75" y="130.61" width="25.7" height="15.53" fill="#D9EBE9"/><text x="638.5" y="141.28" font-size="9.2" text-anchor="middle" font-weight="normal" fill="#1a1a1a">*</text><rect x="653.15" y="130.61" width="25.7" height="15.53" fill="#FFF0ED"/><rect x="680.55" y="130.61" width="25.7" height="15.53" fill="#F1F8F7"/><text x="507.6" y="142.57" font-size="10.2" text-anchor="end" font-weight="bold" fill="#1a1a1a">Plasma cells</text><rect x="516.15" y="147.84" width="25.7" height="15.53" fill="#FFF0ED"/><rect x="543.55" y="147.84" width="25.7" height="15.53" fill="#FFE2DA"/><rect x="570.95" y="147.84" width="25.7" height="15.53" fill="#FFFFFF"/><rect x="598.35" y="147.84" width="25.7" height="15.53" fill="#DEEEEC"/><text x="611.1" y="158.51" font-size="9.2" text-anchor="middle" font-weight="normal" fill="#1a1a1a">*</text><rect x="625.75" y="147.84" width="25.7" height="15.53" fill="#FFFFFF"/><rect x="653.15" y="147.84" width="25.7" height="15.53" fill="#FA8D76"/><text x="665.9" y="158.51" font-size="9.2" text-anchor="middle" font-weight="normal" fill="#1a1a1a">***</text><rect x="680.55" y="147.84" width="25.7" height="15.53" fill="#FFC1B2"/><text x="693.3" y="158.51" font-size="9.2" text-anchor="middle" font-weight="normal" fill="#1a1a1a">***</text><text x="507.6" y="159.81" font-size="10.2" text-anchor="end" font-weight="bold" fill="#1a1a1a">NK cells resting</text><rect x="516.15" y="165.07" width="25.7" height="15.53" fill="#FFFFFF"/><rect x="543.55" y="165.07" width="25.7" height="15.53" fill="#CBE4E1"/><text x="556.3" y="175.74" font-size="9.2" text-anchor="middle" font-weight="normal" fill="#1a1a1a">**</text><rect x="570.95" y="165.07" width="25.7" height="15.53" fill="#FFFFFF"/><rect x="598.35" y="165.07" width="25.7" height="15.53" fill="#FFD0C4"/><text x="611.1" y="175.74" font-size="9.2" text-anchor="middle" font-weight="normal" fill="#1a1a1a">**</text><rect x="625.75" y="165.07" width="25.7" height="15.53" fill="#FFF8F6"/><rect x="653.15" y="165.07" width="25.7" height="15.53" fill="#AED5D1"/><text x="665.9" y="175.74" font-size="9.2" text-anchor="middle" font-weight="normal" fill="#1a1a1a">***</text><rect x="680.55" y="165.07" width="25.7" height="15.53" fill="#B3D8D3"/><text x="693.3" y="175.74" font-size="9.2" text-anchor="middle" font-weight="normal" fill="#1a1a1a">***</text><text x="507.6" y="177.03" font-size="10.2" text-anchor="end" font-weight="bold" fill="#1a1a1a">NK cells activated</text><rect x="516.15" y="182.3" width="25.7" height="15.53" fill="#FFEDE8"/><rect x="543.55" y="182.3" width="25.7" height="15.53" fill="#FFDED6"/><text x="556.3" y="192.97" font-size="9.2" text-anchor="middle" font-weight="normal" fill="#1a1a1a">*</text><rect x="570.95" y="182.3" width="25.7" height="15.53" fill="#FFFFFF"/><rect x="598.35" y="182.3" width="25.7" height="15.53" fill="#BDDCD9"/><text x="611.1" y="192.97" font-size="9.2" text-anchor="middle" font-weight="normal" fill="#1a1a1a">***</text><rect x="625.75" y="182.3" width="25.7" height="15.53" fill="#FFE9E3"/><rect x="653.15" y="182.3" width="25.7" height="15.53" fill="#FD9B85"/><text x="665.9" y="192.97" font-size="9.2" text-anchor="middle" font-weight="normal" fill="#1a1a1a">***</text><rect x="680.55" y="182.3" width="25.7" height="15.53" fill="#FFC1B2"/><text x="693.3" y="192.97" font-size="9.2" text-anchor="middle" font-weight="normal" fill="#1a1a1a">***</text><text x="507.6" y="194.27" font-size="10.2" text-anchor="end" font-weight="bold" fill="#1a1a1a">Neutrophils</text><rect x="516.15" y="199.53" width="25.7" height="15.53" fill="#FFFFFF"/><rect x="543.55" y="199.53" width="25.7" height="15.53" fill="#A0CEC9"/><text x="556.3" y="210.2" font-size="9.2" text-anchor="middle" font-weight="normal" fill="#1a1a1a">***</text><rect x="570.95" y="199.53" width="25.7" height="15.53" fill="#FFE2DA"/><rect x="598.35" y="199.53" width="25.7" height="15.53" fill="#FD9B85"/><text x="611.1" y="210.2" font-size="9.2" text-anchor="middle" font-weight="normal" fill="#1a1a1a">***</text><rect x="625.75" y="199.53" width="25.7" height="15.53" fill="#F5FAF9"/><rect x="653.15" y="199.53" width="25.7" height="15.53" fill="#7DBDB6"/><text x="665.9" y="210.2" font-size="9.2" text-anchor="middle" font-weight="normal" fill="#1a1a1a">***</text><rect x="680.55" y="199.53" width="25.7" height="15.53" fill="#8CC4BE"/><text x="693.3" y="210.2" font-size="9.2" text-anchor="middle" font-weight="normal" fill="#1a1a1a">***</text><text x="507.6" y="211.5" font-size="10.2" text-anchor="end" font-weight="bold" fill="#1a1a1a">Monocytes</text><rect x="516.15" y="216.76" width="25.7" height="15.53" fill="#F5FAF9"/><rect x="543.55" y="216.76" width="25.7" height="15.53" fill="#A0CEC9"/><text x="556.3" y="227.43" font-size="9.2" text-anchor="middle" font-weight="normal" fill="#1a1a1a">***</text><rect x="570.95" y="216.76" width="25.7" height="15.53" fill="#FAFDFC"/><rect x="598.35" y="216.76" width="25.7" height="15.53" fill="#F77F66"/><text x="611.1" y="227.43" font-size="9.2" text-anchor="middle" font-weight="normal" fill="#1a1a1a">***</text><rect x="625.75" y="216.76" width="25.7" height="15.53" fill="#FFF0ED"/><rect x="653.15" y="216.76" width="25.7" height="15.53" fill="#5DAEA7"/><text x="665.9" y="227.43" font-size="9.2" text-anchor="middle" font-weight="normal" fill="#1a1a1a">***</text><rect x="680.55" y="216.76" width="25.7" height="15.53" fill="#8CC4BE"/><text x="693.3" y="227.43" font-size="9.2" text-anchor="middle" font-weight="normal" fill="#1a1a1a">***</text><text x="507.6" y="228.72" font-size="10.2" text-anchor="end" font-weight="bold" fill="#1a1a1a">Mast cells resting</text><rect x="516.15" y="233.99" width="25.7" height="15.53" fill="#FFF8F6"/><rect x="543.55" y="233.99" width="25.7" height="15.53" fill="#FFE6DF"/><rect x="570.95" y="233.99" width="25.7" height="15.53" fill="#FFFFFF"/><rect x="598.35" y="233.99" width="25.7" height="15.53" fill="#DEEEEC"/><text x="611.1" y="244.66" font-size="9.2" text-anchor="middle" font-weight="normal" fill="#1a1a1a">*</text><rect x="625.75" y="233.99" width="25.7" height="15.53" fill="#FFE6DF"/><rect x="653.15" y="233.99" width="25.7" height="15.53" fill="#FFE2DA"/><text x="665.9" y="244.66" font-size="9.2" text-anchor="middle" font-weight="normal" fill="#1a1a1a">*</text><rect x="680.55" y="233.99" width="25.7" height="15.53" fill="#FFD4C8"/><text x="693.3" y="244.66" font-size="9.2" text-anchor="middle" font-weight="normal" fill="#1a1a1a">**</text><text x="507.6" y="245.96" font-size="10.2" text-anchor="end" font-weight="bold" fill="#1a1a1a">Mast cells activated</text><rect x="516.15" y="251.22" width="25.7" height="15.53" fill="#FFFFFF"/><rect x="543.55" y="251.22" width="25.7" height="15.53" fill="#FFE6DF"/><rect x="570.95" y="251.22" width="25.7" height="15.53" fill="#FFFBFA"/><rect x="598.35" y="251.22" width="25.7" height="15.53" fill="#FFE2DA"/><rect x="625.75" y="251.22" width="25.7" height="15.53" fill="#FFE6DF"/><rect x="653.15" y="251.22" width="25.7" height="15.53" fill="#FFEDE8"/><rect x="680.55" y="251.22" width="25.7" height="15.53" fill="#FFE9E3"/><text x="507.6" y="263.19" font-size="10.2" text-anchor="end" font-weight="bold" fill="#1a1a1a">Macrophages M2</text><rect x="516.15" y="268.45" width="25.7" height="15.53" fill="#FFF8F6"/><rect x="543.55" y="268.45" width="25.7" height="15.53" fill="#FB927B"/><text x="556.3" y="279.11" font-size="9.2" text-anchor="middle" font-weight="normal" fill="#1a1a1a">***</text><rect x="570.95" y="268.45" width="25.7" height="15.53" fill="#ECF5F4"/><rect x="598.35" y="268.45" width="25.7" height="15.53" fill="#E7F3F1"/><rect x="625.75" y="268.45" width="25.7" height="15.53" fill="#FFFFFF"/><rect x="653.15" y="268.45" width="25.7" height="15.53" fill="#FA8D76"/><text x="665.9" y="279.11" font-size="9.2" text-anchor="middle" font-weight="normal" fill="#1a1a1a">***</text><rect x="680.55" y="268.45" width="25.7" height="15.53" fill="#FFA490"/><text x="693.3" y="279.11" font-size="9.2" text-anchor="middle" font-weight="normal" fill="#1a1a1a">***</text><text x="507.6" y="280.41" font-size="10.2" text-anchor="end" font-weight="bold" fill="#1a1a1a">Macrophages M1</text><rect x="516.15" y="285.68" width="25.7" height="15.53" fill="#DEEEEC"/><rect x="543.55" y="285.68" width="25.7" height="15.53" fill="#FFC5B7"/><text x="556.3" y="296.34" font-size="9.2" text-anchor="middle" font-weight="normal" fill="#1a1a1a">***</text><rect x="570.95" y="285.68" width="25.7" height="15.53" fill="#ECF5F4"/><rect x="598.35" y="285.68" width="25.7" height="15.53" fill="#C6E1DE"/><text x="611.1" y="296.34" font-size="9.2" text-anchor="middle" font-weight="normal" fill="#1a1a1a">***</text><rect x="625.75" y="285.68" width="25.7" height="15.53" fill="#FFD4C8"/><text x="638.5" y="296.34" font-size="9.2" text-anchor="middle" font-weight="normal" fill="#1a1a1a">***</text><rect x="653.15" y="285.68" width="25.7" height="15.53" fill="#FC9680"/><text x="665.9" y="296.34" font-size="9.2" text-anchor="middle" font-weight="normal" fill="#1a1a1a">***</text><rect x="680.55" y="285.68" width="25.7" height="15.53" fill="#F98870"/><text x="693.3" y="296.34" font-size="9.2" text-anchor="middle" font-weight="normal" fill="#1a1a1a">***</text><text x="507.6" y="297.64" font-size="10.2" text-anchor="end" font-weight="bold" fill="#1a1a1a">Macrophages M0</text><rect x="516.15" y="302.91" width="25.7" height="15.53" fill="#FFFFFF"/><rect x="543.55" y="302.91" width="25.7" height="15.53" fill="#DEEEEC"/><text x="556.3" y="313.57" font-size="9.2" text-anchor="middle" font-weight="normal" fill="#1a1a1a">*</text><rect x="570.95" y="302.91" width="25.7" height="15.53" fill="#FFE6DF"/><rect x="598.35" y="302.91" width="25.7" height="15.53" fill="#FFD0C4"/><text x="611.1" y="313.57" font-size="9.2" text-anchor="middle" font-weight="normal" fill="#1a1a1a">**</text><rect x="625.75" y="302.91" width="25.7" height="15.53" fill="#E7F3F1"/><rect x="653.15" y="302.91" width="25.7" height="15.53" fill="#C1DFDB"/><text x="665.9" y="313.57" font-size="9.2" text-anchor="middle" font-weight="normal" fill="#1a1a1a">***</text><rect x="680.55" y="302.91" width="25.7" height="15.53" fill="#C6E1DE"/><text x="693.3" y="313.57" font-size="9.2" text-anchor="middle" font-weight="normal" fill="#1a1a1a">***</text><text x="507.6" y="314.88" font-size="10.2" text-anchor="end" font-weight="bold" fill="#1a1a1a">Eosinophils</text><rect x="516.15" y="320.14" width="25.7" height="15.53" fill="#DEEEEC"/><rect x="543.55" y="320.14" width="25.7" height="15.53" fill="#DEEEEC"/><text x="556.3" y="330.8" font-size="9.2" text-anchor="middle" font-weight="normal" fill="#1a1a1a">*</text><rect x="570.95" y="320.14" width="25.7" height="15.53" fill="#FFFBFA"/><rect x="598.35" y="320.14" width="25.7" height="15.53" fill="#FFCCBF"/><text x="611.1" y="330.8" font-size="9.2" text-anchor="middle" font-weight="normal" fill="#1a1a1a">***</text><rect x="625.75" y="320.14" width="25.7" height="15.53" fill="#ECF5F4"/><rect x="653.15" y="320.14" width="25.7" height="15.53" fill="#6EB5AE"/><text x="665.9" y="330.8" font-size="9.2" text-anchor="middle" font-weight="normal" fill="#1a1a1a">***</text><rect x="680.55" y="320.14" width="25.7" height="15.53" fill="#96C9C3"/><text x="693.3" y="330.8" font-size="9.2" text-anchor="middle" font-weight="normal" fill="#1a1a1a">***</text><text x="507.6" y="332.1" font-size="10.2" text-anchor="end" font-weight="bold" fill="#1a1a1a">Dendritic cells resting</text><rect x="516.15" y="337.37" width="25.7" height="15.53" fill="#FFFFFF"/><rect x="543.55" y="337.37" width="25.7" height="15.53" fill="#FFF4F1"/><rect x="570.95" y="337.37" width="25.7" height="15.53" fill="#FFFFFF"/><rect x="598.35" y="337.37" width="25.7" height="15.53" fill="#FFF0ED"/><rect x="625.75" y="337.37" width="25.7" height="15.53" fill="#FFE2DA"/><text x="638.5" y="348.03" font-size="9.2" text-anchor="middle" font-weight="normal" fill="#1a1a1a">*</text><rect x="653.15" y="337.37" width="25.7" height="15.53" fill="#E3F0EE"/><text x="665.9" y="348.03" font-size="9.2" text-anchor="middle" font-weight="normal" fill="#1a1a1a">*</text><rect x="680.55" y="337.37" width="25.7" height="15.53" fill="#F1F8F7"/><text x="507.6" y="349.33" font-size="10.2" text-anchor="end" font-weight="bold" fill="#1a1a1a">Dendritic cells activated</text><rect x="516.15" y="354.6" width="25.7" height="15.53" fill="#F5FAF9"/><rect x="543.55" y="354.6" width="25.7" height="15.53" fill="#D9EBE9"/><text x="556.3" y="365.26" font-size="9.2" text-anchor="middle" font-weight="normal" fill="#1a1a1a">*</text><rect x="570.95" y="354.6" width="25.7" height="15.53" fill="#FFE6DF"/><rect x="598.35" y="354.6" width="25.7" height="15.53" fill="#FFDED6"/><text x="611.1" y="365.26" font-size="9.2" text-anchor="middle" font-weight="normal" fill="#1a1a1a">*</text><rect x="625.75" y="354.6" width="25.7" height="15.53" fill="#FFFFFF"/><rect x="653.15" y="354.6" width="25.7" height="15.53" fill="#F1F8F7"/><rect x="680.55" y="354.6" width="25.7" height="15.53" fill="#ECF5F4"/><text x="507.6" y="366.56" font-size="10.2" text-anchor="end" font-weight="bold" fill="#1a1a1a">B cells naive</text><rect x="516.15" y="371.83" width="25.7" height="15.53" fill="#FFE6DF"/><rect x="543.55" y="371.83" width="25.7" height="15.53" fill="#FFE6DF"/><rect x="570.95" y="371.83" width="25.7" height="15.53" fill="#F1F8F7"/><rect x="598.35" y="371.83" width="25.7" height="15.53" fill="#D0E6E4"/><text x="611.1" y="382.49" font-size="9.2" text-anchor="middle" font-weight="normal" fill="#1a1a1a">**</text><rect x="625.75" y="371.83" width="25.7" height="15.53" fill="#FFEDE8"/><rect x="653.15" y="371.83" width="25.7" height="15.53" fill="#FFFFFF"/><rect x="680.55" y="371.83" width="25.7" height="15.53" fill="#FFE6DF"/><text x="507.6" y="383.79" font-size="10.2" text-anchor="end" font-weight="bold" fill="#1a1a1a">B cells memory</text><text x="534" y="400.8" font-size="10" text-anchor="end" font-weight="bold" fill="#1a1a1a" transform="rotate(-45 534 400.8)">A1CF</text><text x="561.4" y="400.8" font-size="10" text-anchor="end" font-weight="bold" fill="#1a1a1a" transform="rotate(-45 561.4 400.8)">CBX3</text><text x="588.8" y="400.8" font-size="10" text-anchor="end" font-weight="bold" fill="#1a1a1a" transform="rotate(-45 588.8 400.8)">CTCFL</text><text x="616.2" y="400.8" font-size="10" text-anchor="end" font-weight="bold" fill="#1a1a1a" transform="rotate(-45 616.2 400.8)">MOCS1</text><text x="643.6" y="400.8" font-size="10" text-anchor="end" font-weight="bold" fill="#1a1a1a" transform="rotate(-45 643.6 400.8)">NPAS2</text><text x="671" y="400.8" font-size="10" text-anchor="end" font-weight="bold" fill="#1a1a1a" transform="rotate(-45 671 400.8)">PBK</text><text x="698.4" y="400.8" font-size="10" text-anchor="end" font-weight="bold" fill="#1a1a1a" transform="rotate(-45 698.4 400.8)">CRGI</text>
<g class="k"><text x="725.6" y="131.8" font-size="11.5" text-anchor="start" font-weight="normal" fill="#1a1a1a">***</text><text x="745.4" y="132.2" font-size="10.6" text-anchor="start" font-weight="normal" fill="#1a1a1a">p&lt;0.001</text><text x="725.6" y="144.5" font-size="11.5" text-anchor="start" font-weight="normal" fill="#1a1a1a">**</text><text x="740.6" y="143.8" font-size="10.6" text-anchor="start" font-weight="normal" fill="#1a1a1a">p&lt;0.01</text><text x="729" y="156.2" font-size="11.5" text-anchor="start" font-weight="normal" fill="#1a1a1a">*</text><text x="739.6" y="156.1" font-size="10.6" text-anchor="start" font-weight="normal" fill="#1a1a1a">p&lt;0.05</text><text x="725.6" y="180.2" font-size="11.1" text-anchor="start" font-weight="normal" fill="#1a1a1a">Correlation</text><defs><linearGradient id="cb" x1="0" y1="0" x2="0" y2="1"><stop offset="0" stop-color="#E03020"/><stop offset="0.03" stop-color="#E43E2A"/><stop offset="0.05" stop-color="#E74A34"/><stop offset="0.07" stop-color="#EB553D"/><stop offset="0.1" stop-color="#EE6047"/><stop offset="0.12" stop-color="#F16A50"/><stop offset="0.15" stop-color="#F3735A"/><stop offset="0.17" stop-color="#F67D64"/><stop offset="0.2" stop-color="#F8866E"/><stop offset="0.23" stop-color="#FB8F78"/><stop offset="0.25" stop-color="#FC9882"/><stop offset="0.28" stop-color="#FEA18C"/><stop offset="0.3" stop-color="#FFAA96"/><stop offset="0.33" stop-color="#FFB3A1"/><stop offset="0.35" stop-color="#FFBCAB"/><stop offset="0.38" stop-color="#FFC4B6"/><stop offset="0.4" stop-color="#FFCDC1"/><stop offset="0.42" stop-color="#FFD6CB"/><stop offset="0.45" stop-color="#FFDFD6"/><stop offset="0.47" stop-color="#FFE8E1"/><stop offset="0.5" stop-color="#FFF0EC"/><stop offset="0.53" stop-color="#FFF9F7"/><stop offset="0.55" stop-color="#FCFDFD"/><stop offset="0.57" stop-color="#F3F9F8"/><stop offset="0.6" stop-color="#EAF4F3"/><stop offset="0.62" stop-color="#E0EFED"/><stop offset="0.65" stop-color="#D7EAE8"/><stop offset="0.68" stop-color="#CEE6E3"/><stop offset="0.7" stop-color="#C5E1DD"/><stop offset="0.72" stop-color="#BCDCD8"/><stop offset="0.75" stop-color="#B2D7D3"/><stop offset="0.78" stop-color="#A9D2CE"/><stop offset="0.8" stop-color="#A0CEC9"/><stop offset="0.82" stop-color="#96C9C4"/><stop offset="0.85" stop-color="#8DC4BE"/><stop offset="0.88" stop-color="#83BFB9"/><stop offset="0.9" stop-color="#79BBB4"/><stop offset="0.93" stop-color="#6FB6AF"/><stop offset="0.95" stop-color="#65B1AA"/><stop offset="0.97" stop-color="#5AADA5"/><stop offset="1" stop-color="#4FA8A0"/></linearGradient></defs><rect x="725.8" y="187.1" width="17.8" height="87.9" fill="url(#cb)"/><line x1="725.8" y1="189.4" x2="729.3" y2="189.4" stroke="#fff" stroke-width="0.6"/><line x1="740.1" y1="189.4" x2="743.6" y2="189.4" stroke="#fff" stroke-width="0.6"/><text x="748.4" y="192.8" font-size="9.5" text-anchor="start" font-weight="normal" fill="#1a1a1a">0.4</text><line x1="725.8" y1="211.9" x2="729.3" y2="211.9" stroke="#fff" stroke-width="0.6"/><line x1="740.1" y1="211.9" x2="743.6" y2="211.9" stroke="#fff" stroke-width="0.6"/><text x="748.4" y="215.3" font-size="9.5" text-anchor="start" font-weight="normal" fill="#1a1a1a">0.2</text><line x1="725.8" y1="234.9" x2="729.3" y2="234.9" stroke="#fff" stroke-width="0.6"/><line x1="740.1" y1="234.9" x2="743.6" y2="234.9" stroke="#fff" stroke-width="0.6"/><text x="748.4" y="238.3" font-size="9.5" text-anchor="start" font-weight="normal" fill="#1a1a1a">0.0</text><line x1="725.8" y1="257.6" x2="729.3" y2="257.6" stroke="#fff" stroke-width="0.6"/><line x1="740.1" y1="257.6" x2="743.6" y2="257.6" stroke="#fff" stroke-width="0.6"/><text x="748.4" y="261" font-size="9.5" text-anchor="start" font-weight="normal" fill="#1a1a1a">−0.2</text></g>
<g class="c"><text x="0" y="0" font-size="9.6" text-anchor="start" font-weight="normal" fill="#1a1a1a" transform="translate(344.6 436.6) scale(0.917 1)">CRGI</text><line x1="380.15" y1="428" x2="380.15" y2="438.8" stroke="#222" stroke-width="0.7"/><rect x="375.2" y="430" width="9.9" height="7.1" fill="#29A39B" stroke="#222" stroke-width="0.7"/><line x1="375.2" y1="433.5" x2="385.1" y2="433.5" stroke="#111" stroke-width="1.2"/><text x="390.6" y="436.1" font-size="7.2" text-anchor="start" font-weight="normal" fill="#1a1a1a">low</text><line x1="412.25" y1="428" x2="412.25" y2="438.8" stroke="#222" stroke-width="0.7"/><rect x="407.3" y="430" width="9.9" height="7.1" fill="#E0291F" stroke="#222" stroke-width="0.7"/><line x1="407.3" y1="433.5" x2="417.2" y2="433.5" stroke="#111" stroke-width="1.2"/><text x="423.5" y="436.1" font-size="7.2" text-anchor="start" font-weight="normal" fill="#1a1a1a">high</text><line x1="63.2" y1="467.1" x2="63.2" y2="753.6" stroke="#6a6a6a" stroke-width="1"/><line x1="60.9" y1="519.5" x2="63.2" y2="519.5" stroke="#333" stroke-width="0.8"/><text x="58.8" y="522.4" font-size="8.2" text-anchor="end" font-weight="normal" fill="#222">3</text><line x1="60.9" y1="574.2" x2="63.2" y2="574.2" stroke="#333" stroke-width="0.8"/><text x="58.8" y="577.1" font-size="8.2" text-anchor="end" font-weight="normal" fill="#222">2</text><line x1="60.9" y1="628.9" x2="63.2" y2="628.9" stroke="#333" stroke-width="0.8"/><text x="58.8" y="631.8" font-size="8.2" text-anchor="end" font-weight="normal" fill="#222">1</text><line x1="60.9" y1="683.6" x2="63.2" y2="683.6" stroke="#333" stroke-width="0.8"/><text x="58.8" y="686.5" font-size="8.2" text-anchor="end" font-weight="normal" fill="#222">0</text><line x1="60.9" y1="738.3" x2="63.2" y2="738.3" stroke="#333" stroke-width="0.8"/><text x="58.8" y="741.2" font-size="8.2" text-anchor="end" font-weight="normal" fill="#222">−1</text><text x="45.4" y="597.3" font-size="12" text-anchor="middle" font-weight="normal" fill="#1a1a1a" transform="rotate(-90 45.4 597.3)">Gene expression</text><rect x="63" y="453.5" width="32.5" height="12.9" fill="#F0F0F0" stroke="#333" stroke-width="0.7"/><text x="79.25" y="462.8" font-size="7.4" text-anchor="middle" font-weight="normal" fill="#222">CD28</text><text x="0" y="0" font-size="8.8" text-anchor="middle" font-weight="normal" fill="#222" transform="translate(79.25 477) scale(0.9091 1)">9.4e−05</text><path d="M71.7,487.7V479.8H86.5V487.7" fill="none" stroke="#888" stroke-width="0.8"/><line x1="63" y1="753.1" x2="95.5" y2="753.1" stroke="#6a6a6a" stroke-width="1"/><line x1="71.7" y1="753.2" x2="71.7" y2="755.6" stroke="#333" stroke-width="0.8"/><text x="75.8" y="762.2" font-size="8.8" text-anchor="end" font-weight="normal" fill="#222" transform="rotate(-45 75.8 762.2)">low</text><line x1="86.5" y1="753.2" x2="86.5" y2="755.6" stroke="#333" stroke-width="0.8"/><text x="90.6" y="762.2" font-size="8.8" text-anchor="end" font-weight="normal" fill="#222" transform="rotate(-45 90.6 762.2)">high</text><line x1="71.7" y1="535.75" x2="71.7" y2="595" stroke="#2a2a2a" stroke-width="0.75"/><rect x="65.7" y="555" width="12" height="17.25" fill="#29A39B" stroke="#222" stroke-width="0.7"/><line x1="65.7" y1="563" x2="77.7" y2="563" stroke="#111" stroke-width="1.4"/><circle cx="71.7" cy="598.5" r="1.55" fill="#0a0a0a"/><circle cx="71.7" cy="603.5" r="1.55" fill="#0a0a0a"/><circle cx="71.7" cy="608.25" r="1.55" fill="#0a0a0a"/><line x1="86.5" y1="540" x2="86.5" y2="600" stroke="#2a2a2a" stroke-width="0.75"/><rect x="80.5" y="558" width="12" height="18.5" fill="#E0291F" stroke="#222" stroke-width="0.7"/><line x1="80.5" y1="566.5" x2="92.5" y2="566.5" stroke="#111" stroke-width="1.4"/><circle cx="86.5" cy="607.75" r="1.55" fill="#0a0a0a"/><circle cx="86.5" cy="613.5" r="1.55" fill="#0a0a0a"/><rect x="99.7" y="453.5" width="32.5" height="12.9" fill="#F0F0F0" stroke="#333" stroke-width="0.7"/><text x="115.95" y="462.8" font-size="7.4" text-anchor="middle" font-weight="normal" fill="#222">CTLA4</text><text x="0" y="0" font-size="8.8" text-anchor="middle" font-weight="normal" fill="#222" transform="translate(115.95 477) scale(0.9091 1)">0.79</text><path d="M108.4,487.7V479.8H123.2V487.7" fill="none" stroke="#888" stroke-width="0.8"/><line x1="99.7" y1="753.1" x2="132.2" y2="753.1" stroke="#6a6a6a" stroke-width="1"/><line x1="108.4" y1="753.2" x2="108.4" y2="755.6" stroke="#333" stroke-width="0.8"/><text x="112.5" y="762.2" font-size="8.8" text-anchor="end" font-weight="normal" fill="#222" transform="rotate(-45 112.5 762.2)">low</text><line x1="123.2" y1="753.2" x2="123.2" y2="755.6" stroke="#333" stroke-width="0.8"/><text x="127.3" y="762.2" font-size="8.8" text-anchor="end" font-weight="normal" fill="#222" transform="rotate(-45 127.3 762.2)">high</text><line x1="108.4" y1="528.25" x2="108.4" y2="592.5" stroke="#2a2a2a" stroke-width="0.75"/><rect x="102.4" y="546.5" width="12" height="18.5" fill="#29A39B" stroke="#222" stroke-width="0.7"/><line x1="102.4" y1="555.5" x2="114.4" y2="555.5" stroke="#111" stroke-width="1.4"/><circle cx="108.4" cy="593.75" r="1.55" fill="#0a0a0a"/><line x1="123.2" y1="522.5" x2="123.2" y2="590" stroke="#2a2a2a" stroke-width="0.75"/><rect x="117.2" y="547.25" width="12" height="17.25" fill="#E0291F" stroke="#222" stroke-width="0.7"/><line x1="117.2" y1="555.75" x2="129.2" y2="555.75" stroke="#111" stroke-width="1.4"/><circle cx="123.2" cy="520.5" r="1.55" fill="#0a0a0a"/><circle cx="123.2" cy="591.25" r="1.55" fill="#0a0a0a"/><circle cx="123.2" cy="593.75" r="1.55" fill="#0a0a0a"/><rect x="136.4" y="453.5" width="32.5" height="12.9" fill="#F0F0F0" stroke="#333" stroke-width="0.7"/><text x="152.65" y="462.8" font-size="7.4" text-anchor="middle" font-weight="normal" fill="#222">LAG3</text><text x="0" y="0" font-size="8.8" text-anchor="middle" font-weight="normal" fill="#222" transform="translate(152.65 477) scale(0.9091 1)">0.093</text><path d="M145.1,487.7V479.8H159.9V487.7" fill="none" stroke="#888" stroke-width="0.8"/><line x1="136.4" y1="753.1" x2="168.9" y2="753.1" stroke="#6a6a6a" stroke-width="1"/><line x1="145.1" y1="753.2" x2="145.1" y2="755.6" stroke="#333" stroke-width="0.8"/><text x="149.2" y="762.2" font-size="8.8" text-anchor="end" font-weight="normal" fill="#222" transform="rotate(-45 149.2 762.2)">low</text><line x1="159.9" y1="753.2" x2="159.9" y2="755.6" stroke="#333" stroke-width="0.8"/><text x="164" y="762.2" font-size="8.8" text-anchor="end" font-weight="normal" fill="#222" transform="rotate(-45 164 762.2)">high</text><line x1="145.1" y1="521.25" x2="145.1" y2="590" stroke="#2a2a2a" stroke-width="0.75"/><rect x="139.1" y="544.75" width="12" height="18.5" fill="#29A39B" stroke="#222" stroke-width="0.7"/><line x1="139.1" y1="553" x2="151.1" y2="553" stroke="#111" stroke-width="1.4"/><circle cx="145.1" cy="510.75" r="1.55" fill="#0a0a0a"/><circle cx="145.1" cy="515" r="1.55" fill="#0a0a0a"/><circle cx="145.1" cy="592" r="1.55" fill="#0a0a0a"/><circle cx="145.1" cy="596.75" r="1.55" fill="#0a0a0a"/><circle cx="145.1" cy="658.25" r="1.55" fill="#0a0a0a"/><circle cx="145.1" cy="670.5" r="1.55" fill="#0a0a0a"/><line x1="159.9" y1="517" x2="159.9" y2="593.75" stroke="#2a2a2a" stroke-width="0.75"/><rect x="153.9" y="540.25" width="12" height="22.5" fill="#E0291F" stroke="#222" stroke-width="0.7"/><line x1="153.9" y1="551.5" x2="165.9" y2="551.5" stroke="#111" stroke-width="1.4"/><circle cx="159.9" cy="600" r="1.55" fill="#0a0a0a"/><circle cx="159.9" cy="730.75" r="1.55" fill="#0a0a0a"/><rect x="173.1" y="453.5" width="32.5" height="12.9" fill="#F0F0F0" stroke="#333" stroke-width="0.7"/><text x="189.35" y="462.8" font-size="7.4" text-anchor="middle" font-weight="normal" fill="#222">IL12B</text><text x="0" y="0" font-size="8.8" text-anchor="middle" font-weight="normal" fill="#222" transform="translate(189.35 477) scale(0.9091 1)">1.6e−06</text><path d="M181.8,487.7V479.8H196.6V487.7" fill="none" stroke="#888" stroke-width="0.8"/><line x1="173.1" y1="753.1" x2="205.6" y2="753.1" stroke="#6a6a6a" stroke-width="1"/><line x1="181.8" y1="753.2" x2="181.8" y2="755.6" stroke="#333" stroke-width="0.8"/><text x="185.9" y="762.2" font-size="8.8" text-anchor="end" font-weight="normal" fill="#222" transform="rotate(-45 185.9 762.2)">low</text><line x1="196.6" y1="753.2" x2="196.6" y2="755.6" stroke="#333" stroke-width="0.8"/><text x="200.7" y="762.2" font-size="8.8" text-anchor="end" font-weight="normal" fill="#222" transform="rotate(-45 200.7 762.2)">high</text><line x1="181.8" y1="557.5" x2="181.8" y2="620" stroke="#2a2a2a" stroke-width="0.75"/><rect x="175.8" y="583" width="12" height="16.5" fill="#29A39B" stroke="#222" stroke-width="0.7"/><line x1="175.8" y1="591.25" x2="187.8" y2="591.25" stroke="#111" stroke-width="1.4"/><circle cx="181.8" cy="551" r="1.55" fill="#0a0a0a"/><circle cx="181.8" cy="552.5" r="1.55" fill="#0a0a0a"/><circle cx="181.8" cy="554" r="1.55" fill="#0a0a0a"/><circle cx="181.8" cy="556" r="1.55" fill="#0a0a0a"/><circle cx="181.8" cy="626" r="1.55" fill="#0a0a0a"/><circle cx="181.8" cy="628" r="1.55" fill="#0a0a0a"/><circle cx="181.8" cy="630" r="1.55" fill="#0a0a0a"/><circle cx="181.8" cy="632" r="1.55" fill="#0a0a0a"/><circle cx="181.8" cy="633.75" r="1.55" fill="#0a0a0a"/><circle cx="181.8" cy="656.25" r="1.55" fill="#0a0a0a"/><line x1="196.6" y1="560.75" x2="196.6" y2="625" stroke="#2a2a2a" stroke-width="0.75"/><rect x="190.6" y="586.25" width="12" height="18.25" fill="#E0291F" stroke="#222" stroke-width="0.7"/><line x1="190.6" y1="596.25" x2="202.6" y2="596.25" stroke="#111" stroke-width="1.4"/><circle cx="196.6" cy="514" r="1.55" fill="#0a0a0a"/><circle cx="196.6" cy="547" r="1.55" fill="#0a0a0a"/><circle cx="196.6" cy="635" r="1.55" fill="#0a0a0a"/><circle cx="196.6" cy="665" r="1.55" fill="#0a0a0a"/><circle cx="196.6" cy="675.5" r="1.55" fill="#0a0a0a"/><circle cx="196.6" cy="728.25" r="1.55" fill="#0a0a0a"/><rect x="209.8" y="453.5" width="32.5" height="12.9" fill="#F0F0F0" stroke="#333" stroke-width="0.7"/><text x="226.05" y="462.8" font-size="7.4" text-anchor="middle" font-weight="normal" fill="#222">LAMA3</text><text x="0" y="0" font-size="8.8" text-anchor="middle" font-weight="normal" fill="#222" transform="translate(226.05 477) scale(0.9091 1)">0.0036</text><path d="M218.5,487.7V479.8H233.3V487.7" fill="none" stroke="#888" stroke-width="0.8"/><line x1="209.8" y1="753.1" x2="242.3" y2="753.1" stroke="#6a6a6a" stroke-width="1"/><line x1="218.5" y1="753.2" x2="218.5" y2="755.6" stroke="#333" stroke-width="0.8"/><text x="222.6" y="762.2" font-size="8.8" text-anchor="end" font-weight="normal" fill="#222" transform="rotate(-45 222.6 762.2)">low</text><line x1="233.3" y1="753.2" x2="233.3" y2="755.6" stroke="#333" stroke-width="0.8"/><text x="237.4" y="762.2" font-size="8.8" text-anchor="end" font-weight="normal" fill="#222" transform="rotate(-45 237.4 762.2)">high</text><line x1="218.5" y1="515" x2="218.5" y2="588.75" stroke="#2a2a2a" stroke-width="0.75"/><rect x="212.5" y="542.5" width="12" height="19" fill="#29A39B" stroke="#222" stroke-width="0.7"/><line x1="212.5" y1="551.25" x2="224.5" y2="551.25" stroke="#111" stroke-width="1.4"/><circle cx="218.5" cy="507" r="1.55" fill="#0a0a0a"/><circle cx="218.5" cy="590" r="1.55" fill="#0a0a0a"/><circle cx="218.5" cy="592" r="1.55" fill="#0a0a0a"/><circle cx="218.5" cy="594" r="1.55" fill="#0a0a0a"/><circle cx="218.5" cy="596" r="1.55" fill="#0a0a0a"/><circle cx="218.5" cy="598.75" r="1.55" fill="#0a0a0a"/><circle cx="218.5" cy="605.5" r="1.55" fill="#0a0a0a"/><line x1="233.3" y1="494.5" x2="233.3" y2="604.5" stroke="#2a2a2a" stroke-width="0.75"/><rect x="227.3" y="534.5" width="12" height="29.25" fill="#E0291F" stroke="#222" stroke-width="0.7"/><line x1="227.3" y1="547.5" x2="239.3" y2="547.5" stroke="#111" stroke-width="1.4"/><rect x="246.5" y="453.5" width="32.5" height="12.9" fill="#F0F0F0" stroke="#333" stroke-width="0.7"/><text x="262.75" y="462.8" font-size="7.4" text-anchor="middle" font-weight="normal" fill="#222">IFNG</text><text x="0" y="0" font-size="8.8" text-anchor="middle" font-weight="normal" fill="#222" transform="translate(262.75 477) scale(0.9091 1)">0.00011</text><path d="M255.2,487.7V479.8H270V487.7" fill="none" stroke="#888" stroke-width="0.8"/><line x1="246.5" y1="753.1" x2="279" y2="753.1" stroke="#6a6a6a" stroke-width="1"/><line x1="255.2" y1="753.2" x2="255.2" y2="755.6" stroke="#333" stroke-width="0.8"/><text x="259.3" y="762.2" font-size="8.8" text-anchor="end" font-weight="normal" fill="#222" transform="rotate(-45 259.3 762.2)">low</text><line x1="270" y1="753.2" x2="270" y2="755.6" stroke="#333" stroke-width="0.8"/><text x="274.1" y="762.2" font-size="8.8" text-anchor="end" font-weight="normal" fill="#222" transform="rotate(-45 274.1 762.2)">high</text><line x1="255.2" y1="527.5" x2="255.2" y2="619.5" stroke="#2a2a2a" stroke-width="0.75"/><rect x="249.2" y="565" width="12" height="22.5" fill="#29A39B" stroke="#222" stroke-width="0.7"/><line x1="249.2" y1="577" x2="261.2" y2="577" stroke="#111" stroke-width="1.4"/><circle cx="255.2" cy="523.75" r="1.55" fill="#0a0a0a"/><circle cx="255.2" cy="525.5" r="1.55" fill="#0a0a0a"/><circle cx="255.2" cy="527" r="1.55" fill="#0a0a0a"/><circle cx="255.2" cy="530" r="1.55" fill="#0a0a0a"/><circle cx="255.2" cy="640" r="1.55" fill="#0a0a0a"/><circle cx="255.2" cy="647" r="1.55" fill="#0a0a0a"/><circle cx="255.2" cy="662.5" r="1.55" fill="#0a0a0a"/><circle cx="255.2" cy="666.25" r="1.55" fill="#0a0a0a"/><circle cx="255.2" cy="674.25" r="1.55" fill="#0a0a0a"/><circle cx="255.2" cy="740" r="1.55" fill="#0a0a0a"/><line x1="270" y1="524.25" x2="270" y2="607.5" stroke="#2a2a2a" stroke-width="0.75"/><rect x="264" y="554.5" width="12" height="30.5" fill="#E0291F" stroke="#222" stroke-width="0.7"/><line x1="264" y1="571.25" x2="276" y2="571.25" stroke="#111" stroke-width="1.4"/><circle cx="270" cy="707.5" r="1.55" fill="#0a0a0a"/><rect x="283.2" y="453.5" width="32.5" height="12.9" fill="#F0F0F0" stroke="#333" stroke-width="0.7"/><text x="299.45" y="462.8" font-size="7.4" text-anchor="middle" font-weight="normal" fill="#222">PVR</text><text x="0" y="0" font-size="8.8" text-anchor="middle" font-weight="normal" fill="#222" transform="translate(299.45 477) scale(0.9091 1)">2.4e−16</text><path d="M291.9,487.7V479.8H306.7V487.7" fill="none" stroke="#888" stroke-width="0.8"/><line x1="283.2" y1="753.1" x2="315.7" y2="753.1" stroke="#6a6a6a" stroke-width="1"/><line x1="291.9" y1="753.2" x2="291.9" y2="755.6" stroke="#333" stroke-width="0.8"/><text x="296" y="762.2" font-size="8.8" text-anchor="end" font-weight="normal" fill="#222" transform="rotate(-45 296 762.2)">low</text><line x1="306.7" y1="753.2" x2="306.7" y2="755.6" stroke="#333" stroke-width="0.8"/><text x="310.8" y="762.2" font-size="8.8" text-anchor="end" font-weight="normal" fill="#222" transform="rotate(-45 310.8 762.2)">high</text><line x1="291.9" y1="518.75" x2="291.9" y2="546.25" stroke="#2a2a2a" stroke-width="0.75"/><rect x="285.9" y="530" width="12" height="7.5" fill="#29A39B" stroke="#222" stroke-width="0.7"/><line x1="285.9" y1="533.75" x2="297.9" y2="533.75" stroke="#111" stroke-width="1.4"/><circle cx="291.9" cy="515" r="1.55" fill="#0a0a0a"/><circle cx="291.9" cy="516.5" r="1.55" fill="#0a0a0a"/><circle cx="291.9" cy="518" r="1.55" fill="#0a0a0a"/><circle cx="291.9" cy="549.5" r="1.55" fill="#0a0a0a"/><circle cx="291.9" cy="555.5" r="1.55" fill="#0a0a0a"/><line x1="306.7" y1="515" x2="306.7" y2="546.25" stroke="#2a2a2a" stroke-width="0.75"/><rect x="300.7" y="526.25" width="12" height="8.75" fill="#E0291F" stroke="#222" stroke-width="0.7"/><line x1="300.7" y1="529.5" x2="312.7" y2="529.5" stroke="#111" stroke-width="1.4"/><circle cx="306.7" cy="512" r="1.55" fill="#0a0a0a"/><circle cx="306.7" cy="551.75" r="1.55" fill="#0a0a0a"/><rect x="319.9" y="453.5" width="32.5" height="12.9" fill="#F0F0F0" stroke="#333" stroke-width="0.7"/><text x="336.15" y="462.8" font-size="7.4" text-anchor="middle" font-weight="normal" fill="#222">IL12A</text><text x="0" y="0" font-size="8.8" text-anchor="middle" font-weight="normal" fill="#222" transform="translate(336.15 477) scale(0.9091 1)">0.00015</text><path d="M328.6,487.7V479.8H343.4V487.7" fill="none" stroke="#888" stroke-width="0.8"/><line x1="319.9" y1="753.1" x2="352.4" y2="753.1" stroke="#6a6a6a" stroke-width="1"/><line x1="328.6" y1="753.2" x2="328.6" y2="755.6" stroke="#333" stroke-width="0.8"/><text x="332.7" y="762.2" font-size="8.8" text-anchor="end" font-weight="normal" fill="#222" transform="rotate(-45 332.7 762.2)">low</text><line x1="343.4" y1="753.2" x2="343.4" y2="755.6" stroke="#333" stroke-width="0.8"/><text x="347.5" y="762.2" font-size="8.8" text-anchor="end" font-weight="normal" fill="#222" transform="rotate(-45 347.5 762.2)">high</text><line x1="328.6" y1="552.5" x2="328.6" y2="605" stroke="#2a2a2a" stroke-width="0.75"/><rect x="322.6" y="573.25" width="12" height="14.25" fill="#29A39B" stroke="#222" stroke-width="0.7"/><line x1="322.6" y1="580" x2="334.6" y2="580" stroke="#111" stroke-width="1.4"/><circle cx="328.6" cy="542" r="1.55" fill="#0a0a0a"/><circle cx="328.6" cy="608" r="1.55" fill="#0a0a0a"/><circle cx="328.6" cy="609.5" r="1.55" fill="#0a0a0a"/><circle cx="328.6" cy="611" r="1.55" fill="#0a0a0a"/><circle cx="328.6" cy="612.5" r="1.55" fill="#0a0a0a"/><circle cx="328.6" cy="670" r="1.55" fill="#0a0a0a"/><line x1="343.4" y1="548.25" x2="343.4" y2="603.75" stroke="#2a2a2a" stroke-width="0.75"/><rect x="337.4" y="570" width="12" height="15.5" fill="#E0291F" stroke="#222" stroke-width="0.7"/><line x1="337.4" y1="577.5" x2="349.4" y2="577.5" stroke="#111" stroke-width="1.4"/><circle cx="343.4" cy="530" r="1.55" fill="#0a0a0a"/><circle cx="343.4" cy="540" r="1.55" fill="#0a0a0a"/><circle cx="343.4" cy="541.5" r="1.55" fill="#0a0a0a"/><circle cx="343.4" cy="543" r="1.55" fill="#0a0a0a"/><rect x="356.6" y="453.5" width="32.5" height="12.9" fill="#F0F0F0" stroke="#333" stroke-width="0.7"/><text x="372.85" y="462.8" font-size="7.4" text-anchor="middle" font-weight="normal" fill="#222">LDHC</text><text x="0" y="0" font-size="8.8" text-anchor="middle" font-weight="normal" fill="#222" transform="translate(372.85 477) scale(0.9091 1)">0.0086</text><path d="M365.3,487.7V479.8H380.1V487.7" fill="none" stroke="#888" stroke-width="0.8"/><line x1="356.6" y1="753.1" x2="389.1" y2="753.1" stroke="#6a6a6a" stroke-width="1"/><line x1="365.3" y1="753.2" x2="365.3" y2="755.6" stroke="#333" stroke-width="0.8"/><text x="369.4" y="762.2" font-size="8.8" text-anchor="end" font-weight="normal" fill="#222" transform="rotate(-45 369.4 762.2)">low</text><line x1="380.1" y1="753.2" x2="380.1" y2="755.6" stroke="#333" stroke-width="0.8"/><text x="384.2" y="762.2" font-size="8.8" text-anchor="end" font-weight="normal" fill="#222" transform="rotate(-45 384.2 762.2)">high</text><line x1="365.3" y1="533.25" x2="365.3" y2="633.75" stroke="#2a2a2a" stroke-width="0.75"/><rect x="359.3" y="566.75" width="12" height="26.5" fill="#29A39B" stroke="#222" stroke-width="0.7"/><line x1="359.3" y1="582.5" x2="371.3" y2="582.5" stroke="#111" stroke-width="1.4"/><circle cx="365.3" cy="634.5" r="1.55" fill="#0a0a0a"/><circle cx="365.3" cy="636" r="1.55" fill="#0a0a0a"/><circle cx="365.3" cy="637.5" r="1.55" fill="#0a0a0a"/><circle cx="365.3" cy="638.75" r="1.55" fill="#0a0a0a"/><circle cx="365.3" cy="643.25" r="1.55" fill="#0a0a0a"/><line x1="380.1" y1="525.5" x2="380.1" y2="633" stroke="#2a2a2a" stroke-width="0.75"/><rect x="374.1" y="561.25" width="12" height="31.75" fill="#E0291F" stroke="#222" stroke-width="0.7"/><line x1="374.1" y1="576.75" x2="386.1" y2="576.75" stroke="#111" stroke-width="1.4"/><rect x="393.3" y="453.5" width="32.5" height="12.9" fill="#F0F0F0" stroke="#333" stroke-width="0.7"/><text x="409.55" y="462.8" font-size="7.4" text-anchor="middle" font-weight="normal" fill="#222">ICOS</text><text x="0" y="0" font-size="8.8" text-anchor="middle" font-weight="normal" fill="#222" transform="translate(409.55 477) scale(0.9091 1)">0.058</text><path d="M402,487.7V479.8H416.8V487.7" fill="none" stroke="#888" stroke-width="0.8"/><line x1="393.3" y1="753.1" x2="425.8" y2="753.1" stroke="#6a6a6a" stroke-width="1"/><line x1="402" y1="753.2" x2="402" y2="755.6" stroke="#333" stroke-width="0.8"/><text x="406.1" y="762.2" font-size="8.8" text-anchor="end" font-weight="normal" fill="#222" transform="rotate(-45 406.1 762.2)">low</text><line x1="416.8" y1="753.2" x2="416.8" y2="755.6" stroke="#333" stroke-width="0.8"/><text x="420.9" y="762.2" font-size="8.8" text-anchor="end" font-weight="normal" fill="#222" transform="rotate(-45 420.9 762.2)">high</text><line x1="402" y1="528" x2="402" y2="591.25" stroke="#2a2a2a" stroke-width="0.75"/><rect x="396" y="548.25" width="12" height="18.25" fill="#29A39B" stroke="#222" stroke-width="0.7"/><line x1="396" y1="556.25" x2="408" y2="556.25" stroke="#111" stroke-width="1.4"/><circle cx="402" cy="594.5" r="1.55" fill="#0a0a0a"/><circle cx="402" cy="600" r="1.55" fill="#0a0a0a"/><circle cx="402" cy="614.25" r="1.55" fill="#0a0a0a"/><line x1="416.8" y1="528" x2="416.8" y2="595" stroke="#2a2a2a" stroke-width="0.75"/><rect x="410.8" y="549.25" width="12" height="21.25" fill="#E0291F" stroke="#222" stroke-width="0.7"/><line x1="410.8" y1="558.25" x2="422.8" y2="558.25" stroke="#111" stroke-width="1.4"/><circle cx="416.8" cy="619.25" r="1.55" fill="#0a0a0a"/><circle cx="416.8" cy="636.5" r="1.55" fill="#0a0a0a"/><rect x="430" y="453.5" width="32.5" height="12.9" fill="#F0F0F0" stroke="#333" stroke-width="0.7"/><text x="446.25" y="462.8" font-size="7.4" text-anchor="middle" font-weight="normal" fill="#222">PTPRC</text><text x="0" y="0" font-size="8.8" text-anchor="middle" font-weight="normal" fill="#222" transform="translate(446.25 477) scale(0.9091 1)">0.00061</text><path d="M438.7,487.7V479.8H453.5V487.7" fill="none" stroke="#888" stroke-width="0.8"/><line x1="430" y1="753.1" x2="462.5" y2="753.1" stroke="#6a6a6a" stroke-width="1"/><line x1="438.7" y1="753.2" x2="438.7" y2="755.6" stroke="#333" stroke-width="0.8"/><text x="442.8" y="762.2" font-size="8.8" text-anchor="end" font-weight="normal" fill="#222" transform="rotate(-45 442.8 762.2)">low</text><line x1="453.5" y1="753.2" x2="453.5" y2="755.6" stroke="#333" stroke-width="0.8"/><text x="457.6" y="762.2" font-size="8.8" text-anchor="end" font-weight="normal" fill="#222" transform="rotate(-45 457.6 762.2)">high</text><line x1="438.7" y1="502" x2="438.7" y2="550" stroke="#2a2a2a" stroke-width="0.75"/><rect x="432.7" y="519.25" width="12" height="12.5" fill="#29A39B" stroke="#222" stroke-width="0.7"/><line x1="432.7" y1="525" x2="444.7" y2="525" stroke="#111" stroke-width="1.4"/><circle cx="438.7" cy="550" r="1.55" fill="#0a0a0a"/><circle cx="438.7" cy="552" r="1.55" fill="#0a0a0a"/><circle cx="438.7" cy="554" r="1.55" fill="#0a0a0a"/><circle cx="438.7" cy="556" r="1.55" fill="#0a0a0a"/><circle cx="438.7" cy="558" r="1.55" fill="#0a0a0a"/><circle cx="438.7" cy="560" r="1.55" fill="#0a0a0a"/><circle cx="438.7" cy="562" r="1.55" fill="#0a0a0a"/><circle cx="438.7" cy="563.75" r="1.55" fill="#0a0a0a"/><circle cx="438.7" cy="574.5" r="1.55" fill="#0a0a0a"/><line x1="453.5" y1="505.75" x2="453.5" y2="558.75" stroke="#2a2a2a" stroke-width="0.75"/><rect x="447.5" y="520.75" width="12" height="15.5" fill="#E0291F" stroke="#222" stroke-width="0.7"/><line x1="447.5" y1="528" x2="459.5" y2="528" stroke="#111" stroke-width="1.4"/><circle cx="453.5" cy="559.5" r="1.55" fill="#0a0a0a"/><circle cx="453.5" cy="562" r="1.55" fill="#0a0a0a"/><circle cx="453.5" cy="564.5" r="1.55" fill="#0a0a0a"/><circle cx="453.5" cy="567" r="1.55" fill="#0a0a0a"/><circle cx="453.5" cy="570.5" r="1.55" fill="#0a0a0a"/><circle cx="453.5" cy="581" r="1.55" fill="#0a0a0a"/><rect x="466.7" y="453.5" width="32.5" height="12.9" fill="#F0F0F0" stroke="#333" stroke-width="0.7"/><text x="482.95" y="462.8" font-size="7.4" text-anchor="middle" font-weight="normal" fill="#222">GZMB</text><text x="0" y="0" font-size="8.8" text-anchor="middle" font-weight="normal" fill="#222" transform="translate(482.95 477) scale(0.9091 1)">3.1e−06</text><path d="M475.4,487.7V479.8H490.2V487.7" fill="none" stroke="#888" stroke-width="0.8"/><line x1="466.7" y1="753.1" x2="499.2" y2="753.1" stroke="#6a6a6a" stroke-width="1"/><line x1="475.4" y1="753.2" x2="475.4" y2="755.6" stroke="#333" stroke-width="0.8"/><text x="479.5" y="762.2" font-size="8.8" text-anchor="end" font-weight="normal" fill="#222" transform="rotate(-45 479.5 762.2)">low</text><line x1="490.2" y1="753.2" x2="490.2" y2="755.6" stroke="#333" stroke-width="0.8"/><text x="494.3" y="762.2" font-size="8.8" text-anchor="end" font-weight="normal" fill="#222" transform="rotate(-45 494.3 762.2)">high</text><line x1="475.4" y1="498.25" x2="475.4" y2="580" stroke="#2a2a2a" stroke-width="0.75"/><rect x="469.4" y="523.25" width="12" height="23" fill="#29A39B" stroke="#222" stroke-width="0.7"/><line x1="469.4" y1="533.75" x2="481.4" y2="533.75" stroke="#111" stroke-width="1.4"/><circle cx="475.4" cy="587" r="1.55" fill="#0a0a0a"/><line x1="490.2" y1="492.5" x2="490.2" y2="566.25" stroke="#2a2a2a" stroke-width="0.75"/><rect x="484.2" y="518" width="12" height="23.25" fill="#E0291F" stroke="#222" stroke-width="0.7"/><line x1="484.2" y1="528.75" x2="496.2" y2="528.75" stroke="#111" stroke-width="1.4"/><circle cx="490.2" cy="581.75" r="1.55" fill="#0a0a0a"/><circle cx="490.2" cy="592.25" r="1.55" fill="#0a0a0a"/><rect x="503.4" y="453.5" width="32.5" height="12.9" fill="#F0F0F0" stroke="#333" stroke-width="0.7"/><text x="519.65" y="462.8" font-size="7.4" text-anchor="middle" font-weight="normal" fill="#222">BTLA</text><text x="0" y="0" font-size="8.8" text-anchor="middle" font-weight="normal" fill="#222" transform="translate(519.65 477) scale(0.9091 1)">0.007</text><path d="M512.1,487.7V479.8H526.9V487.7" fill="none" stroke="#888" stroke-width="0.8"/><line x1="503.4" y1="753.1" x2="535.9" y2="753.1" stroke="#6a6a6a" stroke-width="1"/><line x1="512.1" y1="753.2" x2="512.1" y2="755.6" stroke="#333" stroke-width="0.8"/><text x="516.2" y="762.2" font-size="8.8" text-anchor="end" font-weight="normal" fill="#222" transform="rotate(-45 516.2 762.2)">low</text><line x1="526.9" y1="753.2" x2="526.9" y2="755.6" stroke="#333" stroke-width="0.8"/><text x="531" y="762.2" font-size="8.8" text-anchor="end" font-weight="normal" fill="#222" transform="rotate(-45 531 762.2)">high</text><line x1="512.1" y1="537" x2="512.1" y2="601.25" stroke="#2a2a2a" stroke-width="0.75"/><rect x="506.1" y="560.75" width="12" height="17.5" fill="#29A39B" stroke="#222" stroke-width="0.7"/><line x1="506.1" y1="570" x2="518.1" y2="570" stroke="#111" stroke-width="1.4"/><circle cx="512.1" cy="614.25" r="1.55" fill="#0a0a0a"/><line x1="526.9" y1="542" x2="526.9" y2="600" stroke="#2a2a2a" stroke-width="0.75"/><rect x="520.9" y="563" width="12" height="17" fill="#E0291F" stroke="#222" stroke-width="0.7"/><line x1="520.9" y1="572" x2="532.9" y2="572" stroke="#111" stroke-width="1.4"/><circle cx="526.9" cy="644.25" r="1.55" fill="#0a0a0a"/><rect x="540.1" y="453.5" width="32.5" height="12.9" fill="#F0F0F0" stroke="#333" stroke-width="0.7"/><text x="556.35" y="462.8" font-size="7.4" text-anchor="middle" font-weight="normal" fill="#222">CD274</text><text x="0" y="0" font-size="8.8" text-anchor="middle" font-weight="normal" fill="#222" transform="translate(556.35 477) scale(0.9091 1)">0.022</text><path d="M548.8,487.7V479.8H563.6V487.7" fill="none" stroke="#888" stroke-width="0.8"/><line x1="540.1" y1="753.1" x2="572.6" y2="753.1" stroke="#6a6a6a" stroke-width="1"/><line x1="548.8" y1="753.2" x2="548.8" y2="755.6" stroke="#333" stroke-width="0.8"/><text x="552.9" y="762.2" font-size="8.8" text-anchor="end" font-weight="normal" fill="#222" transform="rotate(-45 552.9 762.2)">low</text><line x1="563.6" y1="753.2" x2="563.6" y2="755.6" stroke="#333" stroke-width="0.8"/><text x="567.7" y="762.2" font-size="8.8" text-anchor="end" font-weight="normal" fill="#222" transform="rotate(-45 567.7 762.2)">high</text><line x1="548.8" y1="513.75" x2="548.8" y2="572.5" stroke="#2a2a2a" stroke-width="0.75"/><rect x="542.8" y="535.5" width="12" height="15.25" fill="#29A39B" stroke="#222" stroke-width="0.7"/><line x1="542.8" y1="543.25" x2="554.8" y2="543.25" stroke="#111" stroke-width="1.4"/><circle cx="548.8" cy="505" r="1.55" fill="#0a0a0a"/><circle cx="548.8" cy="507" r="1.55" fill="#0a0a0a"/><circle cx="548.8" cy="509" r="1.55" fill="#0a0a0a"/><circle cx="548.8" cy="511" r="1.55" fill="#0a0a0a"/><circle cx="548.8" cy="513.75" r="1.55" fill="#0a0a0a"/><circle cx="548.8" cy="582" r="1.55" fill="#0a0a0a"/><line x1="563.6" y1="504.25" x2="563.6" y2="573.75" stroke="#2a2a2a" stroke-width="0.75"/><rect x="557.6" y="530.5" width="12" height="20.75" fill="#E0291F" stroke="#222" stroke-width="0.7"/><line x1="557.6" y1="540.75" x2="569.6" y2="540.75" stroke="#111" stroke-width="1.4"/><rect x="576.8" y="453.5" width="32.5" height="12.9" fill="#F0F0F0" stroke="#333" stroke-width="0.7"/><text x="593.05" y="462.8" font-size="7.4" text-anchor="middle" font-weight="normal" fill="#222">PDCD1</text><text x="0" y="0" font-size="8.8" text-anchor="middle" font-weight="normal" fill="#222" transform="translate(593.05 477) scale(0.9091 1)">0.89</text><path d="M585.5,487.7V479.8H600.3V487.7" fill="none" stroke="#888" stroke-width="0.8"/><line x1="576.8" y1="753.1" x2="609.3" y2="753.1" stroke="#6a6a6a" stroke-width="1"/><line x1="585.5" y1="753.2" x2="585.5" y2="755.6" stroke="#333" stroke-width="0.8"/><text x="589.6" y="762.2" font-size="8.8" text-anchor="end" font-weight="normal" fill="#222" transform="rotate(-45 589.6 762.2)">low</text><line x1="600.3" y1="753.2" x2="600.3" y2="755.6" stroke="#333" stroke-width="0.8"/><text x="604.4" y="762.2" font-size="8.8" text-anchor="end" font-weight="normal" fill="#222" transform="rotate(-45 604.4 762.2)">high</text><line x1="585.5" y1="528.25" x2="585.5" y2="595" stroke="#2a2a2a" stroke-width="0.75"/><rect x="579.5" y="549.5" width="12" height="18.5" fill="#29A39B" stroke="#222" stroke-width="0.7"/><line x1="579.5" y1="557" x2="591.5" y2="557" stroke="#111" stroke-width="1.4"/><circle cx="585.5" cy="596.25" r="1.55" fill="#0a0a0a"/><circle cx="585.5" cy="598" r="1.55" fill="#0a0a0a"/><circle cx="585.5" cy="600" r="1.55" fill="#0a0a0a"/><circle cx="585.5" cy="602.5" r="1.55" fill="#0a0a0a"/><circle cx="585.5" cy="618" r="1.55" fill="#0a0a0a"/><line x1="600.3" y1="526.75" x2="600.3" y2="598.75" stroke="#2a2a2a" stroke-width="0.75"/><rect x="594.3" y="548.25" width="12" height="21.75" fill="#E0291F" stroke="#222" stroke-width="0.7"/><line x1="594.3" y1="558" x2="606.3" y2="558" stroke="#111" stroke-width="1.4"/><circle cx="600.3" cy="602.25" r="1.55" fill="#0a0a0a"/><rect x="613.5" y="453.5" width="32.5" height="12.9" fill="#F0F0F0" stroke="#333" stroke-width="0.7"/><text x="629.75" y="462.8" font-size="7.4" text-anchor="middle" font-weight="normal" fill="#222">IL23A</text><text x="0" y="0" font-size="8.8" text-anchor="middle" font-weight="normal" fill="#222" transform="translate(629.75 477) scale(0.9091 1)">2.1e−07</text><path d="M622.2,487.7V479.8H637V487.7" fill="none" stroke="#888" stroke-width="0.8"/><line x1="613.5" y1="753.1" x2="646" y2="753.1" stroke="#6a6a6a" stroke-width="1"/><line x1="622.2" y1="753.2" x2="622.2" y2="755.6" stroke="#333" stroke-width="0.8"/><text x="626.3" y="762.2" font-size="8.8" text-anchor="end" font-weight="normal" fill="#222" transform="rotate(-45 626.3 762.2)">low</text><line x1="637" y1="753.2" x2="637" y2="755.6" stroke="#333" stroke-width="0.8"/><text x="641.1" y="762.2" font-size="8.8" text-anchor="end" font-weight="normal" fill="#222" transform="rotate(-45 641.1 762.2)">high</text><line x1="622.2" y1="526.25" x2="622.2" y2="590" stroke="#2a2a2a" stroke-width="0.75"/><rect x="616.2" y="550.5" width="12" height="15.25" fill="#29A39B" stroke="#222" stroke-width="0.7"/><line x1="616.2" y1="558" x2="628.2" y2="558" stroke="#111" stroke-width="1.4"/><circle cx="622.2" cy="506.75" r="1.55" fill="#0a0a0a"/><circle cx="622.2" cy="511.25" r="1.55" fill="#0a0a0a"/><circle cx="622.2" cy="518.75" r="1.55" fill="#0a0a0a"/><circle cx="622.2" cy="520.5" r="1.55" fill="#0a0a0a"/><circle cx="622.2" cy="522" r="1.55" fill="#0a0a0a"/><circle cx="622.2" cy="525.75" r="1.55" fill="#0a0a0a"/><circle cx="622.2" cy="590" r="1.55" fill="#0a0a0a"/><circle cx="622.2" cy="592" r="1.55" fill="#0a0a0a"/><circle cx="622.2" cy="594" r="1.55" fill="#0a0a0a"/><circle cx="622.2" cy="596" r="1.55" fill="#0a0a0a"/><circle cx="622.2" cy="597.5" r="1.55" fill="#0a0a0a"/><circle cx="622.2" cy="603.75" r="1.55" fill="#0a0a0a"/><circle cx="622.2" cy="610.5" r="1.55" fill="#0a0a0a"/><circle cx="622.2" cy="623" r="1.55" fill="#0a0a0a"/><line x1="637" y1="520" x2="637" y2="586.25" stroke="#2a2a2a" stroke-width="0.75"/><rect x="631" y="544.25" width="12" height="18" fill="#E0291F" stroke="#222" stroke-width="0.7"/><line x1="631" y1="554.25" x2="643" y2="554.25" stroke="#111" stroke-width="1.4"/><circle cx="637" cy="508" r="1.55" fill="#0a0a0a"/><circle cx="637" cy="510" r="1.55" fill="#0a0a0a"/><circle cx="637" cy="512" r="1.55" fill="#0a0a0a"/><circle cx="637" cy="513.5" r="1.55" fill="#0a0a0a"/><circle cx="637" cy="515.5" r="1.55" fill="#0a0a0a"/><circle cx="637" cy="590" r="1.55" fill="#0a0a0a"/><circle cx="637" cy="605.5" r="1.55" fill="#0a0a0a"/><circle cx="637" cy="607" r="1.55" fill="#0a0a0a"/><circle cx="637" cy="608.75" r="1.55" fill="#0a0a0a"/><circle cx="637" cy="618.75" r="1.55" fill="#0a0a0a"/><rect x="650.2" y="453.5" width="32.5" height="12.9" fill="#F0F0F0" stroke="#333" stroke-width="0.7"/><text x="666.45" y="462.8" font-size="7.4" text-anchor="middle" font-weight="normal" fill="#222">CD40LG</text><text x="0" y="0" font-size="8.8" text-anchor="middle" font-weight="normal" fill="#222" transform="translate(666.45 477) scale(0.9091 1)">2.2e−11</text><path d="M658.9,487.7V479.8H673.7V487.7" fill="none" stroke="#888" stroke-width="0.8"/><line x1="650.2" y1="753.1" x2="682.7" y2="753.1" stroke="#6a6a6a" stroke-width="1"/><line x1="658.9" y1="753.2" x2="658.9" y2="755.6" stroke="#333" stroke-width="0.8"/><text x="663" y="762.2" font-size="8.8" text-anchor="end" font-weight="normal" fill="#222" transform="rotate(-45 663 762.2)">low</text><line x1="673.7" y1="753.2" x2="673.7" y2="755.6" stroke="#333" stroke-width="0.8"/><text x="677.8" y="762.2" font-size="8.8" text-anchor="end" font-weight="normal" fill="#222" transform="rotate(-45 677.8 762.2)">high</text><line x1="658.9" y1="530.5" x2="658.9" y2="586.25" stroke="#2a2a2a" stroke-width="0.75"/><rect x="652.9" y="550.75" width="12" height="15.75" fill="#29A39B" stroke="#222" stroke-width="0.7"/><line x1="652.9" y1="558" x2="664.9" y2="558" stroke="#111" stroke-width="1.4"/><circle cx="658.9" cy="592" r="1.55" fill="#0a0a0a"/><line x1="673.7" y1="537.5" x2="673.7" y2="594.5" stroke="#2a2a2a" stroke-width="0.75"/><rect x="667.7" y="555.75" width="12" height="18" fill="#E0291F" stroke="#222" stroke-width="0.7"/><line x1="667.7" y1="564.25" x2="679.7" y2="564.25" stroke="#111" stroke-width="1.4"/><circle cx="673.7" cy="610.5" r="1.55" fill="#0a0a0a"/><circle cx="673.7" cy="614" r="1.55" fill="#0a0a0a"/><circle cx="673.7" cy="617.5" r="1.55" fill="#0a0a0a"/><circle cx="673.7" cy="621.25" r="1.55" fill="#0a0a0a"/><circle cx="673.7" cy="668" r="1.55" fill="#0a0a0a"/><rect x="686.9" y="453.5" width="32.5" height="12.9" fill="#F0F0F0" stroke="#333" stroke-width="0.7"/><text x="703.15" y="462.8" font-size="7.4" text-anchor="middle" font-weight="normal" fill="#222">HAVCR2</text><text x="0" y="0" font-size="8.8" text-anchor="middle" font-weight="normal" fill="#222" transform="translate(703.15 477) scale(0.9091 1)">0.9</text><path d="M695.6,487.7V479.8H710.4V487.7" fill="none" stroke="#888" stroke-width="0.8"/><line x1="686.9" y1="753.1" x2="719.4" y2="753.1" stroke="#6a6a6a" stroke-width="1"/><line x1="695.6" y1="753.2" x2="695.6" y2="755.6" stroke="#333" stroke-width="0.8"/><text x="699.7" y="762.2" font-size="8.8" text-anchor="end" font-weight="normal" fill="#222" transform="rotate(-45 699.7 762.2)">low</text><line x1="710.4" y1="753.2" x2="710.4" y2="755.6" stroke="#333" stroke-width="0.8"/><text x="714.5" y="762.2" font-size="8.8" text-anchor="end" font-weight="normal" fill="#222" transform="rotate(-45 714.5 762.2)">high</text><line x1="695.6" y1="515.75" x2="695.6" y2="560" stroke="#2a2a2a" stroke-width="0.75"/><rect x="689.6" y="529.5" width="12" height="13" fill="#29A39B" stroke="#222" stroke-width="0.7"/><line x1="689.6" y1="535.5" x2="701.6" y2="535.5" stroke="#111" stroke-width="1.4"/><circle cx="695.6" cy="508.75" r="1.55" fill="#0a0a0a"/><circle cx="695.6" cy="560" r="1.55" fill="#0a0a0a"/><circle cx="695.6" cy="562" r="1.55" fill="#0a0a0a"/><circle cx="695.6" cy="564" r="1.55" fill="#0a0a0a"/><circle cx="695.6" cy="566" r="1.55" fill="#0a0a0a"/><circle cx="695.6" cy="568" r="1.55" fill="#0a0a0a"/><circle cx="695.6" cy="570" r="1.55" fill="#0a0a0a"/><circle cx="695.6" cy="579" r="1.55" fill="#0a0a0a"/><line x1="710.4" y1="514.25" x2="710.4" y2="565" stroke="#2a2a2a" stroke-width="0.75"/><rect x="704.4" y="528.75" width="12" height="14.5" fill="#E0291F" stroke="#222" stroke-width="0.7"/><line x1="704.4" y1="535.5" x2="716.4" y2="535.5" stroke="#111" stroke-width="1.4"/><circle cx="710.4" cy="565" r="1.55" fill="#0a0a0a"/><circle cx="710.4" cy="567" r="1.55" fill="#0a0a0a"/><circle cx="710.4" cy="569" r="1.55" fill="#0a0a0a"/><circle cx="710.4" cy="570.5" r="1.55" fill="#0a0a0a"/></g>
</svg>
</body></html>
